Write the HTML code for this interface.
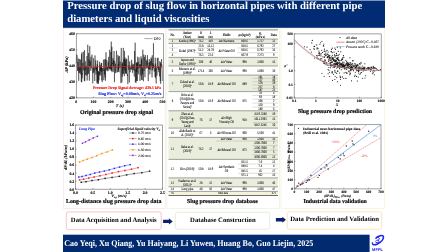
<!DOCTYPE html>
<html><head><meta charset="utf-8"><title>Pressure drop of slug flow in horizontal pipes</title>
<style>html,body{margin:0;padding:0;background:#fff;}body{width:448px;height:252px;overflow:hidden;}svg{display:block;filter:blur(0.25px);}</style>
</head><body>
<svg width="448" height="252" viewBox="0 0 448 252" font-family="'Liberation Serif','Times New Roman',serif" text-rendering="geometricPrecision">
<rect width="448" height="252" fill="#fff"/>
<rect x="63" y="0.5" width="322" height="27.3" fill="#012b73"/>
<text x="67.2" y="9.3" font-size="10.7" font-weight="bold" font-style="normal" fill="#fff" text-anchor="start" textLength="295" lengthAdjust="spacingAndGlyphs" >Pressure drop of slug flow in horizontal pipes with different pipe</text>
<text x="67.2" y="21.9" font-size="10.7" font-weight="bold" font-style="normal" fill="#fff" text-anchor="start" >diameters and liquid viscosities</text>
<rect x="63.4" y="28.3" width="101.8" height="180.1" fill="none" stroke="#f7dede" stroke-width="0.6"/>
<rect x="166.9" y="28.3" width="112.4" height="180" fill="none" stroke="#e2f0d8" stroke-width="0.6"/>
<rect x="281" y="28.3" width="103.5" height="180" fill="none" stroke="#faeccb" stroke-width="0.6"/>
<polyline points="76.30,64.10 76.50,54.52 76.70,62.34 76.90,54.90 77.10,55.80 77.30,58.83 77.51,67.31 77.71,70.98 77.91,62.01 78.11,70.81 78.31,58.56 78.51,65.56 78.71,80.74 78.91,67.23 79.11,71.63 79.31,73.21 79.51,59.05 79.72,63.79 79.92,72.70 80.12,66.56 80.32,71.47 80.52,59.62 80.72,74.34 80.92,71.48 81.12,72.07 81.32,81.95 81.52,54.18 81.73,82.23 81.93,52.37 82.13,78.25 82.33,73.36 82.53,74.35 82.73,72.47 82.93,62.94 83.13,70.62 83.33,51.69 83.53,58.76 83.73,69.00 83.94,69.13 84.14,69.56 84.34,80.74 84.54,50.07 84.74,81.26 84.94,67.08 85.14,70.14 85.34,61.30 85.54,75.12 85.74,72.87 85.94,66.04 86.15,66.65 86.35,65.90 86.55,75.60 86.75,67.91 86.95,55.96 87.15,80.54 87.35,73.87 87.55,74.45 87.75,44.71 87.95,73.92 88.16,67.01 88.36,73.62 88.56,52.99 88.76,58.99 88.96,66.05 89.16,59.44 89.36,80.68 89.56,64.47 89.76,46.14 89.96,66.17 90.16,65.33 90.37,61.21 90.57,61.40 90.77,70.80 90.97,56.75 91.17,68.35 91.37,67.97 91.57,67.60 91.77,64.57 91.97,54.63 92.17,63.30 92.37,69.94 92.58,72.46 92.78,83.37 92.98,67.72 93.18,73.23 93.38,58.27 93.58,69.55 93.78,68.82 93.98,72.36 94.18,67.34 94.38,68.35 94.58,73.25 94.79,80.96 94.99,55.44 95.19,69.56 95.39,68.07 95.59,65.11 95.79,60.37 95.99,74.51 96.19,67.89 96.39,70.69 96.59,66.80 96.80,77.20 97.00,83.43 97.20,64.14 97.40,81.98 97.60,60.55 97.80,80.78 98.00,83.90 98.20,71.36 98.40,83.58 98.60,71.28 98.80,72.68 99.01,80.33 99.21,72.39 99.41,73.80 99.61,61.72 99.81,75.71 100.01,69.62 100.21,64.79 100.41,71.02 100.61,67.21 100.81,75.33 101.01,66.76 101.22,63.15 101.42,71.66 101.62,62.92 101.82,80.29 102.02,67.91 102.22,82.17 102.42,72.98 102.62,70.21 102.82,68.04 103.02,71.02 103.22,70.11 103.43,59.61 103.63,67.84 103.83,80.22 104.03,74.91 104.23,68.80 104.43,74.47 104.63,69.83 104.83,59.56 105.03,77.42 105.23,59.09 105.44,80.76 105.64,72.11 105.84,57.68 106.04,52.34 106.24,66.13 106.44,70.42 106.64,61.75 106.84,60.01 107.04,63.48 107.24,70.14 107.44,67.02 107.65,71.30 107.85,70.43 108.05,65.62 108.25,61.90 108.45,67.75 108.65,56.86 108.85,70.50 109.05,68.72 109.25,66.13 109.45,69.01 109.65,49.76 109.86,64.77 110.06,64.55 110.26,68.74 110.46,65.57 110.66,69.28 110.86,51.97 111.06,70.75 111.26,41.58 111.46,67.87 111.66,70.67 111.87,46.71 112.07,72.14 112.27,62.89 112.47,64.12 112.67,63.88 112.87,58.31 113.07,58.00 113.27,71.60 113.47,60.17 113.67,66.44 113.87,57.59 114.08,50.97 114.28,64.18 114.48,82.17 114.68,60.90 114.88,62.52 115.08,65.90 115.28,73.13 115.48,63.76 115.68,69.11 115.88,72.11 116.08,72.64 116.29,58.55 116.49,50.78 116.69,67.42 116.89,66.67 117.09,70.63 117.29,72.35 117.49,71.57 117.69,67.79 117.89,54.80 118.09,71.95 118.29,64.13 118.50,69.55 118.70,56.36 118.90,72.12 119.10,68.64 119.30,57.47 119.50,56.17 119.70,59.29 119.90,67.82 120.10,61.60 120.30,73.18 120.51,75.59 120.71,75.61 120.91,83.17 121.11,55.00 121.31,47.88 121.51,74.57 121.71,74.75 121.91,82.37 122.11,63.71 122.31,76.80 122.51,62.31 122.72,73.57 122.92,65.80 123.12,68.02 123.32,47.86 123.52,73.73 123.72,73.91 123.92,59.12 124.12,68.38 124.32,76.15 124.52,50.88 124.72,70.28 124.93,57.46 125.13,66.16 125.33,60.24 125.53,73.04 125.73,64.51 125.93,74.20 126.13,58.42 126.33,73.66 126.53,70.87 126.73,59.04 126.93,62.12 127.14,71.39 127.34,75.99 127.54,74.36 127.74,83.85 127.94,84.19 128.14,67.27 128.34,55.50 128.54,62.91 128.74,69.72 128.94,65.15 129.15,69.79 129.35,82.37 129.55,61.99 129.75,61.32 129.95,69.68 130.15,72.25 130.35,68.13 130.55,68.50 130.75,69.51 130.95,65.82 131.15,68.41 131.36,68.84 131.56,59.77 131.76,60.30 131.96,69.84 132.16,63.63 132.36,72.81 132.56,71.23 132.76,66.24 132.96,67.84 133.16,64.89 133.36,70.15 133.57,66.69 133.77,63.82 133.97,65.74 134.17,75.48 134.37,76.61 134.57,50.99 134.77,71.14 134.97,71.25 135.17,42.68 135.37,82.16 135.58,72.00 135.78,69.57 135.98,83.01 136.18,70.69 136.38,62.16 136.58,80.92 136.78,63.43 136.98,72.03 137.18,62.79 137.38,81.04 137.58,56.76 137.79,57.69 137.99,68.70 138.19,61.89 138.39,74.30 138.59,73.66 138.79,69.35 138.99,57.36 139.19,64.17 139.39,64.13 139.59,67.68 139.79,64.47 140.00,80.94 140.20,64.20 140.40,67.23 140.60,68.39 140.80,75.51 141.00,56.26 141.20,67.40 141.40,59.86 141.60,79.74 141.80,58.37 142.00,73.79 142.21,80.04 142.41,68.03 142.61,74.40 142.81,49.67 143.01,61.90 143.21,72.25 143.41,81.28 143.61,69.39 143.81,54.68 144.01,71.02 144.22,67.39 144.42,57.14 144.62,61.50 144.82,75.32 145.02,77.23 145.22,68.33 145.42,55.13 145.62,62.42 145.82,67.73 146.02,68.93 146.22,60.74 146.43,63.88 146.63,67.55 146.83,65.55 147.03,59.63 147.23,64.69 147.43,55.13 147.63,68.12 147.83,64.86 148.03,62.67 148.23,81.17 148.43,70.42 148.64,65.75 148.84,69.52 149.04,65.69 149.24,59.04 149.44,69.05 149.64,62.18 149.84,74.31 150.04,70.19 150.24,65.60 150.44,60.92 150.64,67.02 150.85,70.16 151.05,57.34 151.25,65.77 151.45,58.84 151.65,59.00 151.85,64.30 152.05,77.42 152.25,55.33 152.45,65.54 152.65,70.25 152.86,63.23 153.06,67.55 153.26,67.21 153.46,43.24 153.66,68.22 153.86,64.71 154.06,71.44 154.26,71.63 154.46,71.34 154.66,68.65 154.86,68.12 155.07,77.01 155.27,57.73 155.47,78.02 155.67,63.56 155.87,70.07 156.07,80.70 156.27,83.49 156.47,68.08 156.67,67.54 156.87,75.73 157.07,74.54 157.28,58.03 157.48,61.53 157.68,67.30 157.88,68.03 158.08,57.69 158.28,69.93 158.48,66.52 158.68,67.37 158.88,72.22 159.08,67.31 159.29,72.60 159.49,76.37 159.69,61.23 159.89,61.58 160.09,74.62 160.29,81.26 160.49,62.38 160.69,83.81 160.89,71.03 161.09,63.86 161.29,67.45 161.50,59.03 161.70,63.77 161.90,64.98 162.10,67.27 162.30,69.35 162.50,81.03" fill="none" stroke="#000" stroke-width="0.42"/>
<line x1="76.3" y1="66.65" x2="162.5" y2="66.65" stroke="#e8262b" stroke-width="0.7"/>
<rect x="76.3" y="33.8" width="87.1" height="64.1" fill="none" stroke="#7a7a7a" stroke-width="0.7"/>
<line x1="76.3" y1="33.8" x2="77.5" y2="33.8" stroke="#333" stroke-width="0.4"/>
<text x="74.9" y="35.15" font-size="3.9" font-weight="bold" font-style="normal" fill="#000" text-anchor="end" stroke="#000" stroke-width="0.1" >460</text>
<line x1="76.3" y1="49.83" x2="77.5" y2="49.83" stroke="#333" stroke-width="0.4"/>
<text x="74.9" y="51.18" font-size="3.9" font-weight="bold" font-style="normal" fill="#000" text-anchor="end" stroke="#000" stroke-width="0.1" >450</text>
<line x1="76.3" y1="65.85" x2="77.5" y2="65.85" stroke="#333" stroke-width="0.4"/>
<text x="74.9" y="67.2" font-size="3.9" font-weight="bold" font-style="normal" fill="#000" text-anchor="end" stroke="#000" stroke-width="0.1" >440</text>
<line x1="76.3" y1="81.88" x2="77.5" y2="81.88" stroke="#333" stroke-width="0.4"/>
<text x="74.9" y="83.22" font-size="3.9" font-weight="bold" font-style="normal" fill="#000" text-anchor="end" stroke="#000" stroke-width="0.1" >430</text>
<line x1="76.3" y1="97.9" x2="77.5" y2="97.9" stroke="#333" stroke-width="0.4"/>
<text x="74.9" y="99.25" font-size="3.9" font-weight="bold" font-style="normal" fill="#000" text-anchor="end" stroke="#000" stroke-width="0.1" >420</text>
<line x1="76.3" y1="97.9" x2="76.3" y2="96.7" stroke="#333" stroke-width="0.4"/>
<text x="76.3" y="102.9" font-size="3.9" font-weight="bold" font-style="normal" fill="#000" text-anchor="middle" stroke="#000" stroke-width="0.1" >0</text>
<line x1="93.54" y1="97.9" x2="93.54" y2="96.7" stroke="#333" stroke-width="0.4"/>
<text x="93.54" y="102.9" font-size="3.9" font-weight="bold" font-style="normal" fill="#000" text-anchor="middle" stroke="#000" stroke-width="0.1" >100</text>
<line x1="110.78" y1="97.9" x2="110.78" y2="96.7" stroke="#333" stroke-width="0.4"/>
<text x="110.78" y="102.9" font-size="3.9" font-weight="bold" font-style="normal" fill="#000" text-anchor="middle" stroke="#000" stroke-width="0.1" >200</text>
<line x1="128.02" y1="97.9" x2="128.02" y2="96.7" stroke="#333" stroke-width="0.4"/>
<text x="128.02" y="102.9" font-size="3.9" font-weight="bold" font-style="normal" fill="#000" text-anchor="middle" stroke="#000" stroke-width="0.1" >300</text>
<line x1="145.26" y1="97.9" x2="145.26" y2="96.7" stroke="#333" stroke-width="0.4"/>
<text x="145.26" y="102.9" font-size="3.9" font-weight="bold" font-style="normal" fill="#000" text-anchor="middle" stroke="#000" stroke-width="0.1" >400</text>
<line x1="162.5" y1="97.9" x2="162.5" y2="96.7" stroke="#333" stroke-width="0.4"/>
<text x="162.5" y="102.9" font-size="3.9" font-weight="bold" font-style="normal" fill="#000" text-anchor="middle" stroke="#000" stroke-width="0.1" >500</text>
<text x="119.8" y="107.2" font-size="4.2" font-weight="bold" font-style="italic" fill="#000" text-anchor="middle" stroke="#000" stroke-width="0.05" >T (s)</text>
<text transform="translate(67.6,64.4) rotate(-90)" font-size="4.4" font-style="italic" font-weight="bold" stroke="#000" stroke-width="0.06" text-anchor="middle">ΔP (kPa)</text>
<line x1="144.4" y1="38.6" x2="152.7" y2="38.6" stroke="#444" stroke-width="0.45"/>
<text x="153.8" y="40" font-size="3.7" font-weight="normal" font-style="normal" fill="#000" text-anchor="start" textLength="6.9" lengthAdjust="spacingAndGlyphs" stroke="#000" stroke-width="0.05" >DP2</text>
<text x="92.9" y="89.2" font-size="4" font-weight="bold" font-style="normal" fill="#f01818" text-anchor="start" textLength="68.4" lengthAdjust="spacingAndGlyphs" stroke="#f01818" stroke-width="0.12" >Pressure Drop Signal Average:  439.5 kPa</text>
<text x="98.3" y="95.1" font-size="4" font-weight="bold" font-style="normal" fill="#1a2ee8" text-anchor="start" textLength="63" lengthAdjust="spacingAndGlyphs" stroke="#1a2ee8" stroke-width="0.12" >Slug Flow: V<tspan font-size="2.6" dy="0.8">sg</tspan><tspan dy="-0.8">=0.08m/s, V</tspan><tspan font-size="2.6" dy="0.8">sl</tspan><tspan dy="-0.8">=0.25m/s</tspan></text>
<text x="116.5" y="113.8" font-size="6.1" font-weight="bold" font-style="normal" fill="#000" text-anchor="middle" textLength="73.2" lengthAdjust="spacingAndGlyphs" stroke="#000" stroke-width="0.16" >Original pressure drop signal</text>
<rect x="75.5" y="125.0" width="87" height="64.2" fill="none" stroke="#7a7a7a" stroke-width="0.7"/>
<line x1="75.5" y1="189.2" x2="76.7" y2="189.2" stroke="#333" stroke-width="0.4"/>
<text x="74.3" y="190.55" font-size="3.9" font-weight="bold" font-style="normal" fill="#000" text-anchor="end" stroke="#000" stroke-width="0.1" >0.0</text>
<line x1="75.5" y1="181.18" x2="76.7" y2="181.18" stroke="#333" stroke-width="0.4"/>
<text x="74.3" y="182.53" font-size="3.9" font-weight="bold" font-style="normal" fill="#000" text-anchor="end" stroke="#000" stroke-width="0.1" >0.2</text>
<line x1="75.5" y1="173.16" x2="76.7" y2="173.16" stroke="#333" stroke-width="0.4"/>
<text x="74.3" y="174.51" font-size="3.9" font-weight="bold" font-style="normal" fill="#000" text-anchor="end" stroke="#000" stroke-width="0.1" >0.4</text>
<line x1="75.5" y1="165.14" x2="76.7" y2="165.14" stroke="#333" stroke-width="0.4"/>
<text x="74.3" y="166.49" font-size="3.9" font-weight="bold" font-style="normal" fill="#000" text-anchor="end" stroke="#000" stroke-width="0.1" >0.6</text>
<line x1="75.5" y1="157.12" x2="76.7" y2="157.12" stroke="#333" stroke-width="0.4"/>
<text x="74.3" y="158.47" font-size="3.9" font-weight="bold" font-style="normal" fill="#000" text-anchor="end" stroke="#000" stroke-width="0.1" >0.8</text>
<line x1="75.5" y1="149.1" x2="76.7" y2="149.1" stroke="#333" stroke-width="0.4"/>
<text x="74.3" y="150.45" font-size="3.9" font-weight="bold" font-style="normal" fill="#000" text-anchor="end" stroke="#000" stroke-width="0.1" >1.0</text>
<line x1="75.5" y1="141.08" x2="76.7" y2="141.08" stroke="#333" stroke-width="0.4"/>
<text x="74.3" y="142.43" font-size="3.9" font-weight="bold" font-style="normal" fill="#000" text-anchor="end" stroke="#000" stroke-width="0.1" >1.2</text>
<line x1="75.5" y1="133.06" x2="76.7" y2="133.06" stroke="#333" stroke-width="0.4"/>
<text x="74.3" y="134.41" font-size="3.9" font-weight="bold" font-style="normal" fill="#000" text-anchor="end" stroke="#000" stroke-width="0.1" >1.4</text>
<line x1="75.5" y1="125.04" x2="76.7" y2="125.04" stroke="#333" stroke-width="0.4"/>
<text x="74.3" y="126.39" font-size="3.9" font-weight="bold" font-style="normal" fill="#000" text-anchor="end" stroke="#000" stroke-width="0.1" >1.6</text>
<line x1="75.5" y1="189.2" x2="75.5" y2="188" stroke="#333" stroke-width="0.4"/>
<text x="75.5" y="193.5" font-size="3.9" font-weight="bold" font-style="normal" fill="#000" text-anchor="middle" stroke="#000" stroke-width="0.1" >0.0</text>
<line x1="92.9" y1="189.2" x2="92.9" y2="188" stroke="#333" stroke-width="0.4"/>
<text x="92.9" y="193.5" font-size="3.9" font-weight="bold" font-style="normal" fill="#000" text-anchor="middle" stroke="#000" stroke-width="0.1" >0.5</text>
<line x1="110.3" y1="189.2" x2="110.3" y2="188" stroke="#333" stroke-width="0.4"/>
<text x="110.3" y="193.5" font-size="3.9" font-weight="bold" font-style="normal" fill="#000" text-anchor="middle" stroke="#000" stroke-width="0.1" >1.0</text>
<line x1="127.7" y1="189.2" x2="127.7" y2="188" stroke="#333" stroke-width="0.4"/>
<text x="127.7" y="193.5" font-size="3.9" font-weight="bold" font-style="normal" fill="#000" text-anchor="middle" stroke="#000" stroke-width="0.1" >1.5</text>
<line x1="145.1" y1="189.2" x2="145.1" y2="188" stroke="#333" stroke-width="0.4"/>
<text x="145.1" y="193.5" font-size="3.9" font-weight="bold" font-style="normal" fill="#000" text-anchor="middle" stroke="#000" stroke-width="0.1" >2.0</text>
<line x1="162.5" y1="189.2" x2="162.5" y2="188" stroke="#333" stroke-width="0.4"/>
<text x="162.5" y="193.5" font-size="3.9" font-weight="bold" font-style="normal" fill="#000" text-anchor="middle" stroke="#000" stroke-width="0.1" >2.5</text>
<text x="119" y="197.2" font-size="3.7" font-weight="bold" font-style="italic" fill="#000" text-anchor="middle" textLength="15.6" lengthAdjust="spacingAndGlyphs" stroke="#000" stroke-width="0.06" >V<tspan font-size="2.5" dy="0.9">sg</tspan><tspan dy="-0.9"> (m/s)</tspan></text>
<text transform="translate(66.9,157.4) rotate(-90)" font-size="4.1" font-style="italic" font-weight="bold" stroke="#000" stroke-width="0.06" text-anchor="middle" textLength="25" lengthAdjust="spacingAndGlyphs">dP/dL (kPa/m)</text>
<polyline points="81.24,182.28 86.08,181.67 91.99,180.53 98.37,179.74 105.08,178.40 112.06,177.45 119.24,176.36 126.62,174.89 134.15,173.57 141.82,172.71 149.62,171.19" fill="none" stroke="#222222" stroke-width="0.45"/>
<rect x="80.49" y="181.53" width="1.5" height="1.5" fill="#222222"/>
<rect x="85.33" y="180.92" width="1.5" height="1.5" fill="#222222"/>
<rect x="91.24" y="179.78" width="1.5" height="1.5" fill="#222222"/>
<rect x="97.62" y="178.99" width="1.5" height="1.5" fill="#222222"/>
<rect x="104.33" y="177.65" width="1.5" height="1.5" fill="#222222"/>
<rect x="111.31" y="176.70" width="1.5" height="1.5" fill="#222222"/>
<rect x="118.49" y="175.61" width="1.5" height="1.5" fill="#222222"/>
<rect x="125.87" y="174.14" width="1.5" height="1.5" fill="#222222"/>
<rect x="133.40" y="172.82" width="1.5" height="1.5" fill="#222222"/>
<rect x="141.07" y="171.96" width="1.5" height="1.5" fill="#222222"/>
<rect x="148.87" y="170.44" width="1.5" height="1.5" fill="#222222"/>
<polyline points="79.50,179.92 83.65,179.23 88.71,178.09 94.19,177.04 99.95,175.79 105.93,174.49 112.09,173.02 118.41,171.66 124.87,170.50 131.45,169.20 138.14,167.63" fill="none" stroke="#ee1c24" stroke-width="0.45"/>
<rect x="78.75" y="179.17" width="1.5" height="1.5" fill="#ee1c24"/>
<rect x="82.90" y="178.48" width="1.5" height="1.5" fill="#ee1c24"/>
<rect x="87.96" y="177.34" width="1.5" height="1.5" fill="#ee1c24"/>
<rect x="93.44" y="176.29" width="1.5" height="1.5" fill="#ee1c24"/>
<rect x="99.20" y="175.04" width="1.5" height="1.5" fill="#ee1c24"/>
<rect x="105.18" y="173.74" width="1.5" height="1.5" fill="#ee1c24"/>
<rect x="111.34" y="172.27" width="1.5" height="1.5" fill="#ee1c24"/>
<rect x="117.66" y="170.91" width="1.5" height="1.5" fill="#ee1c24"/>
<rect x="124.12" y="169.75" width="1.5" height="1.5" fill="#ee1c24"/>
<rect x="130.70" y="168.45" width="1.5" height="1.5" fill="#ee1c24"/>
<rect x="137.39" y="166.88" width="1.5" height="1.5" fill="#ee1c24"/>
<polyline points="78.74,177.08 82.00,176.52 85.97,175.48 90.27,174.47 94.80,173.07 99.49,172.03 104.34,171.07 109.30,169.83 114.37,168.43 119.54,167.09 124.80,165.75 130.14,164.70" fill="none" stroke="#2233ee" stroke-width="0.45"/>
<rect x="77.99" y="176.33" width="1.5" height="1.5" fill="#2233ee"/>
<rect x="81.25" y="175.77" width="1.5" height="1.5" fill="#2233ee"/>
<rect x="85.22" y="174.73" width="1.5" height="1.5" fill="#2233ee"/>
<rect x="89.52" y="173.72" width="1.5" height="1.5" fill="#2233ee"/>
<rect x="94.05" y="172.32" width="1.5" height="1.5" fill="#2233ee"/>
<rect x="98.74" y="171.28" width="1.5" height="1.5" fill="#2233ee"/>
<rect x="103.59" y="170.32" width="1.5" height="1.5" fill="#2233ee"/>
<rect x="108.55" y="169.08" width="1.5" height="1.5" fill="#2233ee"/>
<rect x="113.62" y="167.68" width="1.5" height="1.5" fill="#2233ee"/>
<rect x="118.79" y="166.34" width="1.5" height="1.5" fill="#2233ee"/>
<rect x="124.05" y="165.00" width="1.5" height="1.5" fill="#2233ee"/>
<rect x="129.39" y="163.95" width="1.5" height="1.5" fill="#2233ee"/>
<polyline points="79.50,162.09 83.01,160.55 87.29,159.13 91.91,157.50 96.78,155.70 101.84,153.54 107.05,151.95 112.39,149.87" fill="none" stroke="#f7931e" stroke-width="0.45"/>
<rect x="78.75" y="161.34" width="1.5" height="1.5" fill="#f7931e"/>
<rect x="82.26" y="159.80" width="1.5" height="1.5" fill="#f7931e"/>
<rect x="86.54" y="158.38" width="1.5" height="1.5" fill="#f7931e"/>
<rect x="91.16" y="156.75" width="1.5" height="1.5" fill="#f7931e"/>
<rect x="96.03" y="154.95" width="1.5" height="1.5" fill="#f7931e"/>
<rect x="101.09" y="152.79" width="1.5" height="1.5" fill="#f7931e"/>
<rect x="106.30" y="151.20" width="1.5" height="1.5" fill="#f7931e"/>
<rect x="111.64" y="149.12" width="1.5" height="1.5" fill="#f7931e"/>
<polyline points="82.46,143.31 85.50,141.87 89.20,139.93 93.21,137.99 97.42,136.33" fill="none" stroke="#8a2be2" stroke-width="0.45"/>
<rect x="81.71" y="142.56" width="1.5" height="1.5" fill="#8a2be2"/>
<rect x="84.75" y="141.12" width="1.5" height="1.5" fill="#8a2be2"/>
<rect x="88.45" y="139.18" width="1.5" height="1.5" fill="#8a2be2"/>
<rect x="92.46" y="137.24" width="1.5" height="1.5" fill="#8a2be2"/>
<rect x="96.67" y="135.58" width="1.5" height="1.5" fill="#8a2be2"/>
<text x="79.1" y="130.3" font-size="3.8" font-weight="bold" font-style="italic" fill="#1a2ee8" text-anchor="start" textLength="15.7" lengthAdjust="spacingAndGlyphs" stroke="#1a2ee8" stroke-width="0.06" >Long Pipe</text>
<text x="117.6" y="130.1" font-size="3.6" font-weight="bold" font-style="italic" fill="#000" text-anchor="start" textLength="42.6" lengthAdjust="spacingAndGlyphs" stroke="#000" stroke-width="0.06" >Superficial liquid velocity V<tspan font-size="2.4" dy="0.7">sl</tspan></text>
<line x1="129" y1="133" x2="136.7" y2="133" stroke="#222222" stroke-width="0.45"/>
<rect x="132.10" y="132.25" width="1.5" height="1.5" fill="#222222"/>
<text x="137.9" y="134.2" font-size="3.5" font-weight="normal" font-style="normal" fill="#000" text-anchor="start" textLength="12.8" lengthAdjust="spacingAndGlyphs" stroke="#000" stroke-width="0.07" >0.75 m/s</text>
<line x1="129" y1="138.6" x2="136.7" y2="138.6" stroke="#ee1c24" stroke-width="0.45"/>
<rect x="132.10" y="137.85" width="1.5" height="1.5" fill="#ee1c24"/>
<text x="137.9" y="139.8" font-size="3.5" font-weight="normal" font-style="normal" fill="#000" text-anchor="start" textLength="12.8" lengthAdjust="spacingAndGlyphs" stroke="#000" stroke-width="0.07" >0.87 m/s</text>
<line x1="129" y1="144.2" x2="136.7" y2="144.2" stroke="#2233ee" stroke-width="0.45"/>
<rect x="132.10" y="143.45" width="1.5" height="1.5" fill="#2233ee"/>
<text x="137.9" y="145.4" font-size="3.5" font-weight="normal" font-style="normal" fill="#000" text-anchor="start" textLength="12.8" lengthAdjust="spacingAndGlyphs" stroke="#000" stroke-width="0.07" >1.00 m/s</text>
<line x1="129" y1="149.8" x2="136.7" y2="149.8" stroke="#f7931e" stroke-width="0.45"/>
<rect x="132.10" y="149.05" width="1.5" height="1.5" fill="#f7931e"/>
<text x="137.9" y="151" font-size="3.5" font-weight="normal" font-style="normal" fill="#000" text-anchor="start" textLength="12.8" lengthAdjust="spacingAndGlyphs" stroke="#000" stroke-width="0.07" >1.50 m/s</text>
<line x1="129" y1="155.4" x2="136.7" y2="155.4" stroke="#8a2be2" stroke-width="0.45"/>
<rect x="132.10" y="154.65" width="1.5" height="1.5" fill="#8a2be2"/>
<text x="137.9" y="156.6" font-size="3.5" font-weight="normal" font-style="normal" fill="#000" text-anchor="start" textLength="12.8" lengthAdjust="spacingAndGlyphs" stroke="#000" stroke-width="0.07" >2.00 m/s</text>
<text x="113.7" y="202.8" font-size="6" font-weight="bold" font-style="normal" fill="#000" text-anchor="middle" textLength="95.4" lengthAdjust="spacingAndGlyphs" stroke="#000" stroke-width="0.16" >Long-distance slug pressure drop data</text>
<rect x="168.5" y="29.9" width="109.5" height="9.5" fill="#fff"/>
<text transform="translate(172.5,35.6) scale(1,1.3)" font-size="2.9" font-weight="bold" fill="#111" stroke="#111" stroke-width="0.06" text-anchor="middle">No.</text>
<text transform="translate(187.3,34.01) scale(1,1.3)" font-size="2.8" font-weight="bold" fill="#111" stroke="#111" stroke-width="0.06" text-anchor="middle">Author</text>
<text transform="translate(187.3,37.61) scale(1,1.3)" font-size="2.8" font-weight="bold" fill="#111" stroke="#111" stroke-width="0.06" text-anchor="middle">(Year)</text>
<text transform="translate(201,34.01) scale(1,1.3)" font-size="2.8" font-weight="bold" fill="#111" stroke="#111" stroke-width="0.06" text-anchor="middle"><tspan font-style="italic">D</tspan></text>
<text transform="translate(201,37.61) scale(1,1.3)" font-size="2.8" font-weight="bold" fill="#111" stroke="#111" stroke-width="0.06" text-anchor="middle">(mm)</text>
<text transform="translate(210.6,34.01) scale(1,1.3)" font-size="2.8" font-weight="bold" fill="#111" stroke="#111" stroke-width="0.06" text-anchor="middle"><tspan font-style="italic">L</tspan></text>
<text transform="translate(210.6,37.61) scale(1,1.3)" font-size="2.8" font-weight="bold" fill="#111" stroke="#111" stroke-width="0.06" text-anchor="middle">(m)</text>
<text transform="translate(226.5,35.6) scale(1,1.3)" font-size="2.9" font-weight="bold" fill="#111" stroke="#111" stroke-width="0.06" text-anchor="middle">Fluids</text>
<text transform="translate(244.6,35.6) scale(1,1.3)" font-size="2.9" font-weight="bold" fill="#111" stroke="#111" stroke-width="0.06" text-anchor="middle">ρ<tspan font-size="2" dy="0.6">L</tspan><tspan dy="-0.6">(kg/m³)</tspan></text>
<text transform="translate(260.4,34.01) scale(1,1.3)" font-size="2.8" font-weight="bold" fill="#111" stroke="#111" stroke-width="0.06" text-anchor="middle"><tspan font-style="italic">μ</tspan><tspan font-size="2" dy="0.6">L</tspan></text>
<text transform="translate(260.4,37.61) scale(1,1.3)" font-size="2.8" font-weight="bold" fill="#111" stroke="#111" stroke-width="0.06" text-anchor="middle">(mPa·s)</text>
<text transform="translate(273.8,35.6) scale(1,1.3)" font-size="2.9" font-weight="bold" fill="#111" stroke="#111" stroke-width="0.06" text-anchor="middle">Data</text>
<rect x="168.5" y="39.2" width="109.5" height="4.1" fill="#e9eddc"/>
<text transform="translate(172.5,42.49) scale(1,1.3)" font-size="2.9" font-weight="normal" fill="#111" stroke="#111" stroke-width="0.06" text-anchor="middle">1</text>
<text transform="translate(187.3,42.49) scale(1,1.3)" font-size="2.9" font-weight="normal" fill="#111" stroke="#111" stroke-width="0.06" text-anchor="middle">Kouba (1986)ᵃ</text>
<text transform="translate(201,42.49) scale(1,1.3)" font-size="2.9" font-weight="normal" fill="#111" stroke="#111" stroke-width="0.06" text-anchor="middle">76.2</text>
<text transform="translate(210.6,42.49) scale(1,1.3)" font-size="2.9" font-weight="normal" fill="#111" stroke="#111" stroke-width="0.06" text-anchor="middle">419</text>
<text transform="translate(226.5,42.49) scale(1,1.3)" font-size="2.9" font-weight="normal" fill="#111" stroke="#111" stroke-width="0.06" text-anchor="middle">Air/Kerosene</text>
<text transform="translate(244.6,42.49) scale(1,1.3)" font-size="2.9" font-weight="normal" fill="#111" stroke="#111" stroke-width="0.06" text-anchor="middle">800.6</text>
<text transform="translate(260.4,42.49) scale(1,1.3)" font-size="2.9" font-weight="normal" fill="#111" stroke="#111" stroke-width="0.06" text-anchor="middle">1.737</text>
<text transform="translate(273.8,42.49) scale(1,1.3)" font-size="2.9" font-weight="normal" fill="#111" stroke="#111" stroke-width="0.06" text-anchor="middle">33</text>
<rect x="168.5" y="43.3" width="109.5" height="14.1" fill="#fff"/>
<text transform="translate(172.5,46.55) scale(1,1.3)" font-size="2.9" font-weight="normal" fill="#111" stroke="#111" stroke-width="0.06" text-anchor="middle">2</text>
<text transform="translate(201,46.55) scale(1,1.3)" font-size="2.9" font-weight="normal" fill="#111" stroke="#111" stroke-width="0.06" text-anchor="middle">25.8</text>
<text transform="translate(210.6,46.55) scale(1,1.3)" font-size="2.9" font-weight="normal" fill="#111" stroke="#111" stroke-width="0.06" text-anchor="middle">16.12</text>
<text transform="translate(244.6,46.55) scale(1,1.3)" font-size="2.9" font-weight="normal" fill="#111" stroke="#111" stroke-width="0.06" text-anchor="middle">858.5</text>
<text transform="translate(260.4,46.55) scale(1,1.3)" font-size="2.9" font-weight="normal" fill="#111" stroke="#111" stroke-width="0.06" text-anchor="middle">6.792</text>
<text transform="translate(273.8,46.55) scale(1,1.3)" font-size="2.9" font-weight="normal" fill="#111" stroke="#111" stroke-width="0.06" text-anchor="middle">27</text>
<line x1="168.5" y1="48" x2="177.5" y2="48" stroke="#a9a99c" stroke-width="0.4"/>
<line x1="196.5" y1="48" x2="215.0" y2="48" stroke="#a9a99c" stroke-width="0.4"/>
<line x1="237.5" y1="48" x2="278.0" y2="48" stroke="#a9a99c" stroke-width="0.4"/>
<text transform="translate(172.5,51.25) scale(1,1.3)" font-size="2.9" font-weight="normal" fill="#111" stroke="#111" stroke-width="0.06" text-anchor="middle">3</text>
<text transform="translate(201,51.25) scale(1,1.3)" font-size="2.9" font-weight="normal" fill="#111" stroke="#111" stroke-width="0.06" text-anchor="middle">51.2</text>
<text transform="translate(210.6,51.25) scale(1,1.3)" font-size="2.9" font-weight="normal" fill="#111" stroke="#111" stroke-width="0.06" text-anchor="middle">24.78</text>
<text transform="translate(244.6,51.25) scale(1,1.3)" font-size="2.9" font-weight="normal" fill="#111" stroke="#111" stroke-width="0.06" text-anchor="middle">858.5</text>
<text transform="translate(260.4,51.25) scale(1,1.3)" font-size="2.9" font-weight="normal" fill="#111" stroke="#111" stroke-width="0.06" text-anchor="middle">6.792</text>
<text transform="translate(273.8,51.25) scale(1,1.3)" font-size="2.9" font-weight="normal" fill="#111" stroke="#111" stroke-width="0.06" text-anchor="middle">36</text>
<line x1="168.5" y1="52.7" x2="177.5" y2="52.7" stroke="#a9a99c" stroke-width="0.4"/>
<line x1="196.5" y1="52.7" x2="215.0" y2="52.7" stroke="#a9a99c" stroke-width="0.4"/>
<line x1="237.5" y1="52.7" x2="278.0" y2="52.7" stroke="#a9a99c" stroke-width="0.4"/>
<text transform="translate(172.5,55.95) scale(1,1.3)" font-size="2.9" font-weight="normal" fill="#111" stroke="#111" stroke-width="0.06" text-anchor="middle">4</text>
<text transform="translate(201,55.95) scale(1,1.3)" font-size="2.9" font-weight="normal" fill="#111" stroke="#111" stroke-width="0.06" text-anchor="middle">76.3</text>
<text transform="translate(210.6,55.95) scale(1,1.3)" font-size="2.9" font-weight="normal" fill="#111" stroke="#111" stroke-width="0.06" text-anchor="middle">23.6</text>
<text transform="translate(244.6,55.95) scale(1,1.3)" font-size="2.9" font-weight="normal" fill="#111" stroke="#111" stroke-width="0.06" text-anchor="middle">867.9</text>
<text transform="translate(260.4,55.95) scale(1,1.3)" font-size="2.9" font-weight="normal" fill="#111" stroke="#111" stroke-width="0.06" text-anchor="middle">7.273</text>
<text transform="translate(273.8,55.95) scale(1,1.3)" font-size="2.9" font-weight="normal" fill="#111" stroke="#111" stroke-width="0.06" text-anchor="middle">9</text>
<text transform="translate(187.3,51.59) scale(1,1.3)" font-size="2.9" font-weight="normal" fill="#111" stroke="#111" stroke-width="0.06" text-anchor="middle">Kokal (1987)ᵇ</text>
<text transform="translate(226.5,51.59) scale(1,1.3)" font-size="2.9" font-weight="normal" fill="#111" stroke="#111" stroke-width="0.06" text-anchor="middle">Air/Water/Oil</text>
<rect x="168.5" y="57.4" width="109.5" height="8.6" fill="#e9eddc"/>
<text transform="translate(172.5,62.94) scale(1,1.3)" font-size="2.9" font-weight="normal" fill="#111" stroke="#111" stroke-width="0.06" text-anchor="middle">5</text>
<text transform="translate(187.3,60.94) scale(1,1.3)" font-size="2.9" font-weight="normal" fill="#111" stroke="#111" stroke-width="0.06" text-anchor="middle">Jepson and</text>
<text transform="translate(187.3,64.94) scale(1,1.3)" font-size="2.9" font-weight="normal" fill="#111" stroke="#111" stroke-width="0.06" text-anchor="middle">Taylor (1993)ᶜ</text>
<text transform="translate(201,62.94) scale(1,1.3)" font-size="2.9" font-weight="normal" fill="#111" stroke="#111" stroke-width="0.06" text-anchor="middle">300</text>
<text transform="translate(210.6,62.94) scale(1,1.3)" font-size="2.9" font-weight="normal" fill="#111" stroke="#111" stroke-width="0.06" text-anchor="middle">40</text>
<text transform="translate(226.5,62.94) scale(1,1.3)" font-size="2.9" font-weight="normal" fill="#111" stroke="#111" stroke-width="0.06" text-anchor="middle">Air/Water</text>
<text transform="translate(244.6,62.94) scale(1,1.3)" font-size="2.9" font-weight="normal" fill="#111" stroke="#111" stroke-width="0.06" text-anchor="middle">998</text>
<text transform="translate(260.4,62.94) scale(1,1.3)" font-size="2.9" font-weight="normal" fill="#111" stroke="#111" stroke-width="0.06" text-anchor="middle">1.000</text>
<text transform="translate(273.8,62.94) scale(1,1.3)" font-size="2.9" font-weight="normal" fill="#111" stroke="#111" stroke-width="0.06" text-anchor="middle">16</text>
<rect x="168.5" y="66.0" width="109.5" height="9.1" fill="#fff"/>
<text transform="translate(172.5,71.79) scale(1,1.3)" font-size="2.9" font-weight="normal" fill="#111" stroke="#111" stroke-width="0.06" text-anchor="middle">6</text>
<text transform="translate(187.3,69.79) scale(1,1.3)" font-size="2.9" font-weight="normal" fill="#111" stroke="#111" stroke-width="0.06" text-anchor="middle">Marcano et al.</text>
<text transform="translate(187.3,73.79) scale(1,1.3)" font-size="2.9" font-weight="normal" fill="#111" stroke="#111" stroke-width="0.06" text-anchor="middle">(1998)ᵈ</text>
<text transform="translate(201,71.79) scale(1,1.3)" font-size="2.9" font-weight="normal" fill="#111" stroke="#111" stroke-width="0.06" text-anchor="middle">172.4</text>
<text transform="translate(210.6,71.79) scale(1,1.3)" font-size="2.9" font-weight="normal" fill="#111" stroke="#111" stroke-width="0.06" text-anchor="middle">200</text>
<text transform="translate(226.5,71.79) scale(1,1.3)" font-size="2.9" font-weight="normal" fill="#111" stroke="#111" stroke-width="0.06" text-anchor="middle">Air/Water</text>
<text transform="translate(244.6,71.79) scale(1,1.3)" font-size="2.9" font-weight="normal" fill="#111" stroke="#111" stroke-width="0.06" text-anchor="middle">998</text>
<text transform="translate(260.4,71.79) scale(1,1.3)" font-size="2.9" font-weight="normal" fill="#111" stroke="#111" stroke-width="0.06" text-anchor="middle">1.000</text>
<text transform="translate(273.8,71.79) scale(1,1.3)" font-size="2.9" font-weight="normal" fill="#111" stroke="#111" stroke-width="0.06" text-anchor="middle">30</text>
<rect x="168.5" y="75.1" width="109.5" height="16.5" fill="#e9eddc"/>
<text transform="translate(172.5,84.59) scale(1,1.3)" font-size="2.9" font-weight="normal" fill="#111" stroke="#111" stroke-width="0.06" text-anchor="middle">7</text>
<text transform="translate(187.3,82.59) scale(1,1.3)" font-size="2.9" font-weight="normal" fill="#111" stroke="#111" stroke-width="0.06" text-anchor="middle">Gokcal et al.</text>
<text transform="translate(187.3,86.59) scale(1,1.3)" font-size="2.9" font-weight="normal" fill="#111" stroke="#111" stroke-width="0.06" text-anchor="middle">(2010)ᵉ</text>
<text transform="translate(201,84.59) scale(1,1.3)" font-size="2.9" font-weight="normal" fill="#111" stroke="#111" stroke-width="0.06" text-anchor="middle">50.8</text>
<text transform="translate(210.6,84.59) scale(1,1.3)" font-size="2.9" font-weight="normal" fill="#111" stroke="#111" stroke-width="0.06" text-anchor="middle">18.9</text>
<text transform="translate(226.5,84.59) scale(1,1.3)" font-size="2.9" font-weight="normal" fill="#111" stroke="#111" stroke-width="0.06" text-anchor="middle">Air/Mineral Oil</text>
<text transform="translate(244.6,84.59) scale(1,1.3)" font-size="2.9" font-weight="normal" fill="#111" stroke="#111" stroke-width="0.06" text-anchor="middle">889</text>
<text transform="translate(260.4,77.65) scale(1,1.3)" font-size="2.9" font-weight="normal" fill="#111" stroke="#111" stroke-width="0.06" text-anchor="middle">181</text>
<text transform="translate(273.8,77.65) scale(1,1.3)" font-size="2.9" font-weight="normal" fill="#111" stroke="#111" stroke-width="0.06" text-anchor="middle">38</text>
<line x1="252.5" y1="78.4" x2="278.0" y2="78.4" stroke="#a9a99c" stroke-width="0.4"/>
<text transform="translate(260.4,80.95) scale(1,1.3)" font-size="2.9" font-weight="normal" fill="#111" stroke="#111" stroke-width="0.06" text-anchor="middle">127</text>
<text transform="translate(273.8,80.95) scale(1,1.3)" font-size="2.9" font-weight="normal" fill="#111" stroke="#111" stroke-width="0.06" text-anchor="middle">40</text>
<line x1="252.5" y1="81.7" x2="278.0" y2="81.7" stroke="#a9a99c" stroke-width="0.4"/>
<text transform="translate(260.4,84.25) scale(1,1.3)" font-size="2.9" font-weight="normal" fill="#111" stroke="#111" stroke-width="0.06" text-anchor="middle">178</text>
<text transform="translate(273.8,84.25) scale(1,1.3)" font-size="2.9" font-weight="normal" fill="#111" stroke="#111" stroke-width="0.06" text-anchor="middle">29</text>
<line x1="252.5" y1="85" x2="278.0" y2="85" stroke="#a9a99c" stroke-width="0.4"/>
<text transform="translate(260.4,87.55) scale(1,1.3)" font-size="2.9" font-weight="normal" fill="#111" stroke="#111" stroke-width="0.06" text-anchor="middle">257</text>
<text transform="translate(273.8,87.55) scale(1,1.3)" font-size="2.9" font-weight="normal" fill="#111" stroke="#111" stroke-width="0.06" text-anchor="middle">8</text>
<line x1="252.5" y1="88.3" x2="278.0" y2="88.3" stroke="#a9a99c" stroke-width="0.4"/>
<text transform="translate(260.4,90.85) scale(1,1.3)" font-size="2.9" font-weight="normal" fill="#111" stroke="#111" stroke-width="0.06" text-anchor="middle">587</text>
<text transform="translate(273.8,90.85) scale(1,1.3)" font-size="2.9" font-weight="normal" fill="#111" stroke="#111" stroke-width="0.06" text-anchor="middle">22</text>
<rect x="168.5" y="91.6" width="109.5" height="19.2" fill="#fff"/>
<text transform="translate(172.5,102.44) scale(1,1.3)" font-size="2.9" font-weight="normal" fill="#111" stroke="#111" stroke-width="0.06" text-anchor="middle">8</text>
<text transform="translate(187.3,96.44) scale(1,1.3)" font-size="2.9" font-weight="normal" fill="#111" stroke="#111" stroke-width="0.06" text-anchor="middle">Brito et al.</text>
<text transform="translate(187.3,100.44) scale(1,1.3)" font-size="2.9" font-weight="normal" fill="#111" stroke="#111" stroke-width="0.06" text-anchor="middle">(2014)(Brito,</text>
<text transform="translate(187.3,104.44) scale(1,1.3)" font-size="2.9" font-weight="normal" fill="#111" stroke="#111" stroke-width="0.06" text-anchor="middle">Pereyra and</text>
<text transform="translate(187.3,108.44) scale(1,1.3)" font-size="2.9" font-weight="normal" fill="#111" stroke="#111" stroke-width="0.06" text-anchor="middle">Sarica)ᶠ</text>
<text transform="translate(201,102.44) scale(1,1.3)" font-size="2.9" font-weight="normal" fill="#111" stroke="#111" stroke-width="0.06" text-anchor="middle">50.8</text>
<text transform="translate(210.6,102.44) scale(1,1.3)" font-size="2.9" font-weight="normal" fill="#111" stroke="#111" stroke-width="0.06" text-anchor="middle">18.9</text>
<text transform="translate(226.5,102.44) scale(1,1.3)" font-size="2.9" font-weight="normal" fill="#111" stroke="#111" stroke-width="0.06" text-anchor="middle">Air/Mineral Oil</text>
<text transform="translate(244.6,102.44) scale(1,1.3)" font-size="2.9" font-weight="normal" fill="#111" stroke="#111" stroke-width="0.06" text-anchor="middle">875</text>
<text transform="translate(260.4,94.42) scale(1,1.3)" font-size="2.9" font-weight="normal" fill="#111" stroke="#111" stroke-width="0.06" text-anchor="middle">39</text>
<text transform="translate(273.8,94.42) scale(1,1.3)" font-size="2.9" font-weight="normal" fill="#111" stroke="#111" stroke-width="0.06" text-anchor="middle">4</text>
<line x1="252.5" y1="95.44" x2="278.0" y2="95.44" stroke="#a9a99c" stroke-width="0.4"/>
<text transform="translate(260.4,98.26) scale(1,1.3)" font-size="2.9" font-weight="normal" fill="#111" stroke="#111" stroke-width="0.06" text-anchor="middle">69</text>
<text transform="translate(273.8,98.26) scale(1,1.3)" font-size="2.9" font-weight="normal" fill="#111" stroke="#111" stroke-width="0.06" text-anchor="middle">18</text>
<line x1="252.5" y1="99.28" x2="278.0" y2="99.28" stroke="#a9a99c" stroke-width="0.4"/>
<text transform="translate(260.4,102.1) scale(1,1.3)" font-size="2.9" font-weight="normal" fill="#111" stroke="#111" stroke-width="0.06" text-anchor="middle">108</text>
<text transform="translate(273.8,102.1) scale(1,1.3)" font-size="2.9" font-weight="normal" fill="#111" stroke="#111" stroke-width="0.06" text-anchor="middle">2</text>
<line x1="252.5" y1="103.12" x2="278.0" y2="103.12" stroke="#a9a99c" stroke-width="0.4"/>
<text transform="translate(260.4,105.94) scale(1,1.3)" font-size="2.9" font-weight="normal" fill="#111" stroke="#111" stroke-width="0.06" text-anchor="middle">150</text>
<text transform="translate(273.8,105.94) scale(1,1.3)" font-size="2.9" font-weight="normal" fill="#111" stroke="#111" stroke-width="0.06" text-anchor="middle">9</text>
<line x1="252.5" y1="106.96" x2="278.0" y2="106.96" stroke="#a9a99c" stroke-width="0.4"/>
<text transform="translate(260.4,109.78) scale(1,1.3)" font-size="2.9" font-weight="normal" fill="#111" stroke="#111" stroke-width="0.06" text-anchor="middle">180</text>
<text transform="translate(273.8,109.78) scale(1,1.3)" font-size="2.9" font-weight="normal" fill="#111" stroke="#111" stroke-width="0.06" text-anchor="middle">6</text>
<rect x="168.5" y="110.8" width="109.5" height="17.3" fill="#e9eddc"/>
<text transform="translate(172.5,120.69) scale(1,1.3)" font-size="2.9" font-weight="normal" fill="#111" stroke="#111" stroke-width="0.06" text-anchor="middle">9</text>
<text transform="translate(187.3,114.69) scale(1,1.3)" font-size="2.9" font-weight="normal" fill="#111" stroke="#111" stroke-width="0.06" text-anchor="middle">Zhao et al.</text>
<text transform="translate(187.3,118.69) scale(1,1.3)" font-size="2.9" font-weight="normal" fill="#111" stroke="#111" stroke-width="0.06" text-anchor="middle">(2013)(Zhao,</text>
<text transform="translate(187.3,122.69) scale(1,1.3)" font-size="2.9" font-weight="normal" fill="#111" stroke="#111" stroke-width="0.06" text-anchor="middle">Yeung and</text>
<text transform="translate(187.3,126.69) scale(1,1.3)" font-size="2.9" font-weight="normal" fill="#111" stroke="#111" stroke-width="0.06" text-anchor="middle">Lao)ᵍ</text>
<text transform="translate(201,120.69) scale(1,1.3)" font-size="2.9" font-weight="normal" fill="#111" stroke="#111" stroke-width="0.06" text-anchor="middle">76</text>
<text transform="translate(210.6,120.69) scale(1,1.3)" font-size="2.9" font-weight="normal" fill="#111" stroke="#111" stroke-width="0.06" text-anchor="middle">17</text>
<text transform="translate(226.5,118.69) scale(1,1.3)" font-size="2.9" font-weight="normal" fill="#111" stroke="#111" stroke-width="0.06" text-anchor="middle">Air/High</text>
<text transform="translate(226.5,122.69) scale(1,1.3)" font-size="2.9" font-weight="normal" fill="#111" stroke="#111" stroke-width="0.06" text-anchor="middle">Viscosity Oil</text>
<text transform="translate(244.6,120.69) scale(1,1.3)" font-size="2.9" font-weight="normal" fill="#111" stroke="#111" stroke-width="0.06" text-anchor="middle">918</text>
<text transform="translate(260.4,114.58) scale(1,1.3)" font-size="2.9" font-weight="normal" fill="#111" stroke="#111" stroke-width="0.06" text-anchor="middle">1519-3280</text>
<text transform="translate(273.8,114.58) scale(1,1.3)" font-size="2.9" font-weight="normal" fill="#111" stroke="#111" stroke-width="0.06" text-anchor="middle">19</text>
<line x1="252.5" y1="116.57" x2="278.0" y2="116.57" stroke="#a9a99c" stroke-width="0.4"/>
<text transform="translate(260.4,120.35) scale(1,1.3)" font-size="2.9" font-weight="normal" fill="#111" stroke="#111" stroke-width="0.06" text-anchor="middle">1011-2983</text>
<text transform="translate(273.8,120.35) scale(1,1.3)" font-size="2.9" font-weight="normal" fill="#111" stroke="#111" stroke-width="0.06" text-anchor="middle">16</text>
<line x1="252.5" y1="122.33" x2="278.0" y2="122.33" stroke="#a9a99c" stroke-width="0.4"/>
<text transform="translate(260.4,126.12) scale(1,1.3)" font-size="2.9" font-weight="normal" fill="#111" stroke="#111" stroke-width="0.06" text-anchor="middle">5847-6246</text>
<text transform="translate(273.8,126.12) scale(1,1.3)" font-size="2.9" font-weight="normal" fill="#111" stroke="#111" stroke-width="0.06" text-anchor="middle">30</text>
<rect x="168.5" y="128.1" width="109.5" height="9.3" fill="#fff"/>
<text transform="translate(172.5,133.99) scale(1,1.3)" font-size="2.9" font-weight="normal" fill="#111" stroke="#111" stroke-width="0.06" text-anchor="middle">10</text>
<text transform="translate(187.3,131.99) scale(1,1.3)" font-size="2.9" font-weight="normal" fill="#111" stroke="#111" stroke-width="0.06" text-anchor="middle">Abdulkadir et</text>
<text transform="translate(187.3,135.99) scale(1,1.3)" font-size="2.9" font-weight="normal" fill="#111" stroke="#111" stroke-width="0.06" text-anchor="middle">al. (2016)ʰ</text>
<text transform="translate(201,133.99) scale(1,1.3)" font-size="2.9" font-weight="normal" fill="#111" stroke="#111" stroke-width="0.06" text-anchor="middle">67</text>
<text transform="translate(210.6,133.99) scale(1,1.3)" font-size="2.9" font-weight="normal" fill="#111" stroke="#111" stroke-width="0.06" text-anchor="middle">6</text>
<text transform="translate(226.5,133.99) scale(1,1.3)" font-size="2.9" font-weight="normal" fill="#111" stroke="#111" stroke-width="0.06" text-anchor="middle">Air/Silicone Oil</text>
<text transform="translate(244.6,133.99) scale(1,1.3)" font-size="2.9" font-weight="normal" fill="#111" stroke="#111" stroke-width="0.06" text-anchor="middle">900</text>
<text transform="translate(260.4,133.99) scale(1,1.3)" font-size="2.9" font-weight="normal" fill="#111" stroke="#111" stroke-width="0.06" text-anchor="middle">5,500</text>
<text transform="translate(273.8,133.99) scale(1,1.3)" font-size="2.9" font-weight="normal" fill="#111" stroke="#111" stroke-width="0.06" text-anchor="middle">41</text>
<rect x="168.5" y="137.4" width="109.5" height="22" fill="#e9eddc"/>
<text transform="translate(172.5,149.64) scale(1,1.3)" font-size="2.9" font-weight="normal" fill="#111" stroke="#111" stroke-width="0.06" text-anchor="middle">11</text>
<text transform="translate(187.3,147.64) scale(1,1.3)" font-size="2.9" font-weight="normal" fill="#111" stroke="#111" stroke-width="0.06" text-anchor="middle">Baba et al.</text>
<text transform="translate(187.3,151.64) scale(1,1.3)" font-size="2.9" font-weight="normal" fill="#111" stroke="#111" stroke-width="0.06" text-anchor="middle">(2019)ⁱ</text>
<text transform="translate(201,149.64) scale(1,1.3)" font-size="2.9" font-weight="normal" fill="#111" stroke="#111" stroke-width="0.06" text-anchor="middle">76.2</text>
<text transform="translate(210.6,149.64) scale(1,1.3)" font-size="2.9" font-weight="normal" fill="#111" stroke="#111" stroke-width="0.06" text-anchor="middle">17</text>
<line x1="215.7" y1="141" x2="278.0" y2="141" stroke="#a9a99c" stroke-width="0.4"/>
<text transform="translate(226.5,140.1) scale(1,1.3)" font-size="2.9" font-weight="normal" fill="#111" stroke="#111" stroke-width="0.06" text-anchor="middle">Air/Water</text>
<text transform="translate(244.6,140.1) scale(1,1.3)" font-size="2.9" font-weight="normal" fill="#111" stroke="#111" stroke-width="0.06" text-anchor="middle">998</text>
<text transform="translate(260.4,140.1) scale(1,1.3)" font-size="2.9" font-weight="normal" fill="#111" stroke="#111" stroke-width="0.06" text-anchor="middle">1.000</text>
<text transform="translate(273.8,140.1) scale(1,1.3)" font-size="2.9" font-weight="normal" fill="#111" stroke="#111" stroke-width="0.06" text-anchor="middle">36</text>
<text transform="translate(226.5,151.44) scale(1,1.3)" font-size="2.9" font-weight="normal" fill="#111" stroke="#111" stroke-width="0.06" text-anchor="middle">Air/Mineral Oil</text>
<text transform="translate(244.6,151.44) scale(1,1.3)" font-size="2.9" font-weight="normal" fill="#111" stroke="#111" stroke-width="0.06" text-anchor="middle">873</text>
<text transform="translate(260.4,144.2) scale(1,1.3)" font-size="2.9" font-weight="normal" fill="#111" stroke="#111" stroke-width="0.06" text-anchor="middle">1200-7000</text>
<text transform="translate(273.8,144.2) scale(1,1.3)" font-size="2.9" font-weight="normal" fill="#111" stroke="#111" stroke-width="0.06" text-anchor="middle">7</text>
<line x1="252.3" y1="145.6" x2="278.0" y2="145.6" stroke="#a9a99c" stroke-width="0.4"/>
<text transform="translate(260.4,148.8) scale(1,1.3)" font-size="2.9" font-weight="normal" fill="#111" stroke="#111" stroke-width="0.06" text-anchor="middle">1200-7000</text>
<text transform="translate(273.8,148.8) scale(1,1.3)" font-size="2.9" font-weight="normal" fill="#111" stroke="#111" stroke-width="0.06" text-anchor="middle">7</text>
<line x1="252.3" y1="150.2" x2="278.0" y2="150.2" stroke="#a9a99c" stroke-width="0.4"/>
<text transform="translate(260.4,153.4) scale(1,1.3)" font-size="2.9" font-weight="normal" fill="#111" stroke="#111" stroke-width="0.06" text-anchor="middle">3400-7000</text>
<text transform="translate(273.8,153.4) scale(1,1.3)" font-size="2.9" font-weight="normal" fill="#111" stroke="#111" stroke-width="0.06" text-anchor="middle">5</text>
<line x1="252.3" y1="154.8" x2="278.0" y2="154.8" stroke="#a9a99c" stroke-width="0.4"/>
<text transform="translate(260.4,158) scale(1,1.3)" font-size="2.9" font-weight="normal" fill="#111" stroke="#111" stroke-width="0.06" text-anchor="middle">4200-6900</text>
<text transform="translate(273.8,158) scale(1,1.3)" font-size="2.9" font-weight="normal" fill="#111" stroke="#111" stroke-width="0.06" text-anchor="middle">13</text>
<rect x="168.5" y="159.4" width="109.5" height="18.5" fill="#fff"/>
<text transform="translate(172.5,169.89) scale(1,1.3)" font-size="2.9" font-weight="normal" fill="#111" stroke="#111" stroke-width="0.06" text-anchor="middle">12</text>
<text transform="translate(187.3,169.89) scale(1,1.3)" font-size="2.9" font-weight="normal" fill="#111" stroke="#111" stroke-width="0.06" text-anchor="middle">Kim (2019)ʲ</text>
<text transform="translate(201,169.89) scale(1,1.3)" font-size="2.9" font-weight="normal" fill="#111" stroke="#111" stroke-width="0.06" text-anchor="middle">50.8</text>
<text transform="translate(210.6,169.89) scale(1,1.3)" font-size="2.9" font-weight="normal" fill="#111" stroke="#111" stroke-width="0.06" text-anchor="middle">18.9</text>
<text transform="translate(226.5,167.89) scale(1,1.3)" font-size="2.9" font-weight="normal" fill="#111" stroke="#111" stroke-width="0.06" text-anchor="middle">Air/Synthetic</text>
<text transform="translate(226.5,171.89) scale(1,1.3)" font-size="2.9" font-weight="normal" fill="#111" stroke="#111" stroke-width="0.06" text-anchor="middle">Oil</text>
<text transform="translate(244.6,162.61) scale(1,1.3)" font-size="2.9" font-weight="normal" fill="#111" stroke="#111" stroke-width="0.06" text-anchor="middle">831.5</text>
<text transform="translate(260.4,162.61) scale(1,1.3)" font-size="2.9" font-weight="normal" fill="#111" stroke="#111" stroke-width="0.06" text-anchor="middle">7.0</text>
<text transform="translate(273.8,162.61) scale(1,1.3)" font-size="2.9" font-weight="normal" fill="#111" stroke="#111" stroke-width="0.06" text-anchor="middle">13</text>
<line x1="237.9" y1="164.03" x2="278.0" y2="164.03" stroke="#a9a99c" stroke-width="0.4"/>
<text transform="translate(244.6,167.24) scale(1,1.3)" font-size="2.9" font-weight="normal" fill="#111" stroke="#111" stroke-width="0.06" text-anchor="middle">848.5</text>
<text transform="translate(260.4,167.24) scale(1,1.3)" font-size="2.9" font-weight="normal" fill="#111" stroke="#111" stroke-width="0.06" text-anchor="middle">7.4</text>
<text transform="translate(273.8,167.24) scale(1,1.3)" font-size="2.9" font-weight="normal" fill="#111" stroke="#111" stroke-width="0.06" text-anchor="middle">4</text>
<line x1="237.9" y1="168.65" x2="278.0" y2="168.65" stroke="#a9a99c" stroke-width="0.4"/>
<text transform="translate(244.6,171.86) scale(1,1.3)" font-size="2.9" font-weight="normal" fill="#111" stroke="#111" stroke-width="0.06" text-anchor="middle">845.5</text>
<text transform="translate(260.4,171.86) scale(1,1.3)" font-size="2.9" font-weight="normal" fill="#111" stroke="#111" stroke-width="0.06" text-anchor="middle">45</text>
<text transform="translate(273.8,171.86) scale(1,1.3)" font-size="2.9" font-weight="normal" fill="#111" stroke="#111" stroke-width="0.06" text-anchor="middle">17</text>
<line x1="237.9" y1="173.28" x2="278.0" y2="173.28" stroke="#a9a99c" stroke-width="0.4"/>
<text transform="translate(244.6,176.49) scale(1,1.3)" font-size="2.9" font-weight="normal" fill="#111" stroke="#111" stroke-width="0.06" text-anchor="middle">871.1</text>
<text transform="translate(260.4,176.49) scale(1,1.3)" font-size="2.9" font-weight="normal" fill="#111" stroke="#111" stroke-width="0.06" text-anchor="middle">962</text>
<text transform="translate(273.8,176.49) scale(1,1.3)" font-size="2.9" font-weight="normal" fill="#111" stroke="#111" stroke-width="0.06" text-anchor="middle">16</text>
<rect x="168.5" y="177.9" width="109.5" height="8.9" fill="#e9eddc"/>
<text transform="translate(172.5,183.59) scale(1,1.3)" font-size="2.9" font-weight="normal" fill="#111" stroke="#111" stroke-width="0.06" text-anchor="middle">13</text>
<text transform="translate(187.3,181.59) scale(1,1.3)" font-size="2.9" font-weight="normal" fill="#111" stroke="#111" stroke-width="0.06" text-anchor="middle">Soedarmo et al.</text>
<text transform="translate(187.3,185.59) scale(1,1.3)" font-size="2.9" font-weight="normal" fill="#111" stroke="#111" stroke-width="0.06" text-anchor="middle">(2021)ᵏ</text>
<text transform="translate(201,183.59) scale(1,1.3)" font-size="2.9" font-weight="normal" fill="#111" stroke="#111" stroke-width="0.06" text-anchor="middle">38</text>
<text transform="translate(210.6,183.59) scale(1,1.3)" font-size="2.9" font-weight="normal" fill="#111" stroke="#111" stroke-width="0.06" text-anchor="middle">13</text>
<text transform="translate(226.5,183.59) scale(1,1.3)" font-size="2.9" font-weight="normal" fill="#111" stroke="#111" stroke-width="0.06" text-anchor="middle">Air/Water</text>
<text transform="translate(244.6,183.59) scale(1,1.3)" font-size="2.9" font-weight="normal" fill="#111" stroke="#111" stroke-width="0.06" text-anchor="middle">998</text>
<text transform="translate(260.4,183.59) scale(1,1.3)" font-size="2.9" font-weight="normal" fill="#111" stroke="#111" stroke-width="0.06" text-anchor="middle">1.000</text>
<text transform="translate(273.8,183.59) scale(1,1.3)" font-size="2.9" font-weight="normal" fill="#111" stroke="#111" stroke-width="0.06" text-anchor="middle">46</text>
<rect x="168.5" y="186.8" width="109.5" height="4.6" fill="#fff"/>
<text transform="translate(172.5,190.34) scale(1,1.3)" font-size="2.9" font-weight="normal" fill="#111" stroke="#111" stroke-width="0.06" text-anchor="middle">14</text>
<text transform="translate(187.3,190.34) scale(1,1.3)" font-size="2.9" font-weight="normal" fill="#111" stroke="#111" stroke-width="0.06" text-anchor="middle">Long pipe</text>
<text transform="translate(201,190.34) scale(1,1.3)" font-size="2.9" font-weight="normal" fill="#111" stroke="#111" stroke-width="0.06" text-anchor="middle">40</text>
<text transform="translate(210.6,190.34) scale(1,1.3)" font-size="2.9" font-weight="normal" fill="#111" stroke="#111" stroke-width="0.06" text-anchor="middle">50</text>
<text transform="translate(226.5,190.34) scale(1,1.3)" font-size="2.9" font-weight="normal" fill="#111" stroke="#111" stroke-width="0.06" text-anchor="middle">Air/Water</text>
<text transform="translate(244.6,190.34) scale(1,1.3)" font-size="2.9" font-weight="normal" fill="#111" stroke="#111" stroke-width="0.06" text-anchor="middle">998</text>
<text transform="translate(260.4,190.34) scale(1,1.3)" font-size="2.9" font-weight="normal" fill="#111" stroke="#111" stroke-width="0.06" text-anchor="middle">1.000</text>
<text transform="translate(273.8,190.34) scale(1,1.3)" font-size="2.9" font-weight="normal" fill="#111" stroke="#111" stroke-width="0.06" text-anchor="middle">47</text>
<rect x="168.5" y="191.4" width="109.5" height="3.9" fill="#f3f3dc"/>
<text transform="translate(172.5,194.3) scale(1,1.3)" font-size="2.6" font-weight="normal" fill="#111" stroke="#111" stroke-width="0.06" text-anchor="middle">15</text>
<text transform="translate(223,194.3) scale(1,1.3)" font-size="2.6" font-weight="normal" fill="#111" stroke="#111" stroke-width="0.06" text-anchor="middle">Total data</text>
<text transform="translate(273.8,194.3) scale(1,1.3)" font-size="2.6" font-weight="normal" fill="#111" stroke="#111" stroke-width="0.06" text-anchor="middle">471</text>
<line x1="168.5" y1="39.1" x2="278.0" y2="39.1" stroke="#96968e" stroke-width="0.9"/>
<line x1="168.5" y1="43.4" x2="278.0" y2="43.4" stroke="#96968e" stroke-width="0.9"/>
<line x1="168.5" y1="57.4" x2="278.0" y2="57.4" stroke="#96968e" stroke-width="0.9"/>
<line x1="168.5" y1="66.0" x2="278.0" y2="66.0" stroke="#96968e" stroke-width="0.9"/>
<line x1="168.5" y1="75.1" x2="278.0" y2="75.1" stroke="#96968e" stroke-width="0.9"/>
<line x1="168.5" y1="91.6" x2="278.0" y2="91.6" stroke="#96968e" stroke-width="0.9"/>
<line x1="168.5" y1="110.8" x2="278.0" y2="110.8" stroke="#96968e" stroke-width="0.9"/>
<line x1="168.5" y1="128.1" x2="278.0" y2="128.1" stroke="#96968e" stroke-width="0.9"/>
<line x1="168.5" y1="137.4" x2="278.0" y2="137.4" stroke="#96968e" stroke-width="0.9"/>
<line x1="168.5" y1="159.4" x2="278.0" y2="159.4" stroke="#96968e" stroke-width="0.9"/>
<line x1="168.5" y1="177.9" x2="278.0" y2="177.9" stroke="#96968e" stroke-width="0.9"/>
<line x1="168.5" y1="186.8" x2="278.0" y2="186.8" stroke="#96968e" stroke-width="0.9"/>
<line x1="168.5" y1="191.4" x2="278.0" y2="191.4" stroke="#96968e" stroke-width="0.9"/>
<line x1="168.5" y1="29.9" x2="278.0" y2="29.9" stroke="#85857a" stroke-width="1.0"/>
<line x1="168.5" y1="195.5" x2="278.0" y2="195.5" stroke="#6e6e66" stroke-width="1.0"/>
<text x="222.4" y="202.6" font-size="5.9" font-weight="bold" font-style="normal" fill="#000" text-anchor="middle" textLength="70.8" lengthAdjust="spacingAndGlyphs" stroke="#000" stroke-width="0.16" >Slug pressure drop database</text>
<circle cx="340.06" cy="60.60" r="0.56" fill="#111"/>
<circle cx="342.19" cy="65.44" r="0.56" fill="#111"/>
<circle cx="347.35" cy="65.04" r="0.56" fill="#111"/>
<circle cx="324.91" cy="62.00" r="0.56" fill="#111"/>
<circle cx="373.62" cy="70.56" r="0.56" fill="#111"/>
<circle cx="348.46" cy="67.80" r="0.56" fill="#111"/>
<circle cx="343.01" cy="66.48" r="0.56" fill="#111"/>
<circle cx="319.86" cy="44.23" r="0.56" fill="#111"/>
<circle cx="342.64" cy="59.49" r="0.56" fill="#111"/>
<circle cx="340.25" cy="47.83" r="0.56" fill="#111"/>
<circle cx="358.89" cy="68.87" r="0.56" fill="#111"/>
<circle cx="334.26" cy="63.67" r="0.56" fill="#111"/>
<circle cx="359.33" cy="63.59" r="0.56" fill="#111"/>
<circle cx="313.92" cy="46.30" r="0.56" fill="#111"/>
<circle cx="373.25" cy="68.27" r="0.56" fill="#111"/>
<circle cx="354.97" cy="66.58" r="0.56" fill="#111"/>
<circle cx="370.52" cy="69.36" r="0.56" fill="#111"/>
<circle cx="325.57" cy="60.26" r="0.56" fill="#111"/>
<circle cx="344.28" cy="65.64" r="0.56" fill="#111"/>
<circle cx="327.31" cy="57.40" r="0.56" fill="#111"/>
<circle cx="331.25" cy="51.39" r="0.56" fill="#111"/>
<circle cx="334.81" cy="65.61" r="0.56" fill="#111"/>
<circle cx="359.89" cy="68.34" r="0.56" fill="#111"/>
<circle cx="331.26" cy="51.70" r="0.56" fill="#111"/>
<circle cx="334.53" cy="60.11" r="0.56" fill="#111"/>
<circle cx="332.50" cy="59.12" r="0.56" fill="#111"/>
<circle cx="369.82" cy="67.29" r="0.56" fill="#111"/>
<circle cx="329.91" cy="58.25" r="0.56" fill="#111"/>
<circle cx="332.75" cy="57.63" r="0.56" fill="#111"/>
<circle cx="330.53" cy="67.73" r="0.56" fill="#111"/>
<circle cx="362.01" cy="68.62" r="0.56" fill="#111"/>
<circle cx="320.78" cy="60.12" r="0.56" fill="#111"/>
<circle cx="333.05" cy="67.18" r="0.56" fill="#111"/>
<circle cx="345.86" cy="65.28" r="0.56" fill="#111"/>
<circle cx="323.37" cy="45.67" r="0.56" fill="#111"/>
<circle cx="346.65" cy="64.87" r="0.56" fill="#111"/>
<circle cx="318.09" cy="55.54" r="0.56" fill="#111"/>
<circle cx="329.60" cy="60.00" r="0.56" fill="#111"/>
<circle cx="336.82" cy="68.09" r="0.56" fill="#111"/>
<circle cx="350.26" cy="67.72" r="0.56" fill="#111"/>
<circle cx="318.29" cy="58.91" r="0.56" fill="#111"/>
<circle cx="350.75" cy="70.67" r="0.56" fill="#111"/>
<circle cx="341.20" cy="64.80" r="0.56" fill="#111"/>
<circle cx="323.85" cy="44.00" r="0.56" fill="#111"/>
<circle cx="352.64" cy="60.82" r="0.56" fill="#111"/>
<circle cx="336.46" cy="53.39" r="0.56" fill="#111"/>
<circle cx="338.77" cy="59.90" r="0.56" fill="#111"/>
<circle cx="347.12" cy="62.51" r="0.56" fill="#111"/>
<circle cx="324.20" cy="57.45" r="0.56" fill="#111"/>
<circle cx="352.16" cy="68.17" r="0.56" fill="#111"/>
<circle cx="339.62" cy="68.65" r="0.56" fill="#111"/>
<circle cx="324.45" cy="51.05" r="0.56" fill="#111"/>
<circle cx="341.15" cy="64.11" r="0.56" fill="#111"/>
<circle cx="346.65" cy="67.91" r="0.56" fill="#111"/>
<circle cx="334.70" cy="64.32" r="0.56" fill="#111"/>
<circle cx="364.01" cy="66.98" r="0.56" fill="#111"/>
<circle cx="335.61" cy="60.85" r="0.56" fill="#111"/>
<circle cx="356.63" cy="70.70" r="0.56" fill="#111"/>
<circle cx="361.86" cy="67.29" r="0.56" fill="#111"/>
<circle cx="327.59" cy="54.13" r="0.56" fill="#111"/>
<circle cx="351.27" cy="68.64" r="0.56" fill="#111"/>
<circle cx="340.00" cy="63.36" r="0.56" fill="#111"/>
<circle cx="347.16" cy="62.72" r="0.56" fill="#111"/>
<circle cx="373.59" cy="67.12" r="0.56" fill="#111"/>
<circle cx="361.27" cy="68.89" r="0.56" fill="#111"/>
<circle cx="334.98" cy="57.47" r="0.56" fill="#111"/>
<circle cx="340.16" cy="66.57" r="0.56" fill="#111"/>
<circle cx="327.84" cy="57.67" r="0.56" fill="#111"/>
<circle cx="347.35" cy="64.94" r="0.56" fill="#111"/>
<circle cx="349.93" cy="57.82" r="0.56" fill="#111"/>
<circle cx="317.10" cy="56.93" r="0.56" fill="#111"/>
<circle cx="333.64" cy="60.49" r="0.56" fill="#111"/>
<circle cx="346.65" cy="61.48" r="0.56" fill="#111"/>
<circle cx="364.06" cy="68.29" r="0.56" fill="#111"/>
<circle cx="327.25" cy="56.72" r="0.56" fill="#111"/>
<circle cx="337.33" cy="57.24" r="0.56" fill="#111"/>
<circle cx="367.94" cy="67.41" r="0.56" fill="#111"/>
<circle cx="351.83" cy="69.43" r="0.56" fill="#111"/>
<circle cx="347.88" cy="67.28" r="0.56" fill="#111"/>
<circle cx="373.27" cy="72.86" r="0.56" fill="#111"/>
<circle cx="335.39" cy="66.02" r="0.56" fill="#111"/>
<circle cx="359.99" cy="67.13" r="0.56" fill="#111"/>
<circle cx="343.90" cy="66.33" r="0.56" fill="#111"/>
<circle cx="356.83" cy="68.08" r="0.56" fill="#111"/>
<circle cx="335.89" cy="63.53" r="0.56" fill="#111"/>
<circle cx="342.54" cy="62.05" r="0.56" fill="#111"/>
<circle cx="368.12" cy="69.09" r="0.56" fill="#111"/>
<circle cx="331.61" cy="62.53" r="0.56" fill="#111"/>
<circle cx="347.76" cy="64.03" r="0.56" fill="#111"/>
<circle cx="335.08" cy="56.19" r="0.56" fill="#111"/>
<circle cx="331.05" cy="66.00" r="0.56" fill="#111"/>
<circle cx="344.85" cy="65.66" r="0.56" fill="#111"/>
<circle cx="346.24" cy="67.40" r="0.56" fill="#111"/>
<circle cx="338.17" cy="66.51" r="0.56" fill="#111"/>
<circle cx="344.43" cy="66.70" r="0.56" fill="#111"/>
<circle cx="343.43" cy="55.63" r="0.56" fill="#111"/>
<circle cx="333.52" cy="60.36" r="0.56" fill="#111"/>
<circle cx="357.25" cy="70.51" r="0.56" fill="#111"/>
<circle cx="330.30" cy="63.27" r="0.56" fill="#111"/>
<circle cx="355.01" cy="68.29" r="0.56" fill="#111"/>
<circle cx="350.05" cy="64.87" r="0.56" fill="#111"/>
<circle cx="325.81" cy="54.18" r="0.56" fill="#111"/>
<circle cx="332.80" cy="58.19" r="0.56" fill="#111"/>
<circle cx="337.29" cy="64.25" r="0.56" fill="#111"/>
<circle cx="330.87" cy="62.71" r="0.56" fill="#111"/>
<circle cx="359.67" cy="66.99" r="0.56" fill="#111"/>
<circle cx="352.84" cy="69.59" r="0.56" fill="#111"/>
<circle cx="363.74" cy="69.08" r="0.56" fill="#111"/>
<circle cx="331.47" cy="64.87" r="0.56" fill="#111"/>
<circle cx="332.35" cy="62.06" r="0.56" fill="#111"/>
<circle cx="358.34" cy="67.95" r="0.56" fill="#111"/>
<circle cx="338.25" cy="63.61" r="0.56" fill="#111"/>
<circle cx="349.82" cy="68.42" r="0.56" fill="#111"/>
<circle cx="371.16" cy="66.95" r="0.56" fill="#111"/>
<circle cx="341.99" cy="66.67" r="0.56" fill="#111"/>
<circle cx="325.89" cy="53.02" r="0.56" fill="#111"/>
<circle cx="344.67" cy="66.72" r="0.56" fill="#111"/>
<circle cx="358.89" cy="69.89" r="0.56" fill="#111"/>
<circle cx="322.84" cy="61.28" r="0.56" fill="#111"/>
<circle cx="340.43" cy="64.51" r="0.56" fill="#111"/>
<circle cx="342.49" cy="66.57" r="0.56" fill="#111"/>
<circle cx="350.75" cy="69.15" r="0.56" fill="#111"/>
<circle cx="352.76" cy="64.98" r="0.56" fill="#111"/>
<circle cx="342.38" cy="65.25" r="0.56" fill="#111"/>
<circle cx="350.94" cy="70.23" r="0.56" fill="#111"/>
<circle cx="347.32" cy="63.03" r="0.56" fill="#111"/>
<circle cx="373.72" cy="70.31" r="0.56" fill="#111"/>
<circle cx="353.04" cy="60.64" r="0.56" fill="#111"/>
<circle cx="363.21" cy="71.06" r="0.56" fill="#111"/>
<circle cx="350.44" cy="67.26" r="0.56" fill="#111"/>
<circle cx="351.87" cy="66.78" r="0.56" fill="#111"/>
<circle cx="317.07" cy="48.89" r="0.56" fill="#111"/>
<circle cx="332.05" cy="65.12" r="0.56" fill="#111"/>
<circle cx="348.73" cy="64.00" r="0.56" fill="#111"/>
<circle cx="380.41" cy="69.66" r="0.56" fill="#111"/>
<circle cx="373.19" cy="66.34" r="0.56" fill="#111"/>
<circle cx="333.03" cy="57.74" r="0.56" fill="#111"/>
<circle cx="337.29" cy="64.63" r="0.56" fill="#111"/>
<circle cx="343.89" cy="57.21" r="0.56" fill="#111"/>
<circle cx="377.13" cy="69.88" r="0.56" fill="#111"/>
<circle cx="345.91" cy="67.55" r="0.56" fill="#111"/>
<circle cx="328.82" cy="59.02" r="0.56" fill="#111"/>
<circle cx="346.51" cy="63.69" r="0.56" fill="#111"/>
<circle cx="342.95" cy="65.18" r="0.56" fill="#111"/>
<circle cx="348.51" cy="65.16" r="0.56" fill="#111"/>
<circle cx="334.52" cy="54.93" r="0.56" fill="#111"/>
<circle cx="328.65" cy="60.01" r="0.56" fill="#111"/>
<circle cx="353.25" cy="65.29" r="0.56" fill="#111"/>
<circle cx="323.72" cy="61.61" r="0.56" fill="#111"/>
<circle cx="339.22" cy="62.02" r="0.56" fill="#111"/>
<circle cx="342.81" cy="67.72" r="0.56" fill="#111"/>
<circle cx="372.95" cy="71.87" r="0.56" fill="#111"/>
<circle cx="346.17" cy="63.51" r="0.56" fill="#111"/>
<circle cx="330.85" cy="60.35" r="0.56" fill="#111"/>
<circle cx="339.71" cy="62.38" r="0.56" fill="#111"/>
<circle cx="345.25" cy="65.81" r="0.56" fill="#111"/>
<circle cx="378.31" cy="70.42" r="0.56" fill="#111"/>
<circle cx="326.35" cy="63.63" r="0.56" fill="#111"/>
<circle cx="355.31" cy="67.68" r="0.56" fill="#111"/>
<circle cx="349.96" cy="62.72" r="0.56" fill="#111"/>
<circle cx="353.53" cy="70.65" r="0.56" fill="#111"/>
<circle cx="364.94" cy="70.23" r="0.56" fill="#111"/>
<circle cx="333.59" cy="64.04" r="0.56" fill="#111"/>
<circle cx="343.55" cy="66.71" r="0.56" fill="#111"/>
<circle cx="343.92" cy="62.99" r="0.56" fill="#111"/>
<circle cx="331.15" cy="58.30" r="0.56" fill="#111"/>
<circle cx="323.78" cy="46.10" r="0.56" fill="#111"/>
<circle cx="354.40" cy="63.72" r="0.56" fill="#111"/>
<circle cx="356.88" cy="66.77" r="0.56" fill="#111"/>
<circle cx="335.56" cy="49.51" r="0.56" fill="#111"/>
<circle cx="339.15" cy="54.35" r="0.56" fill="#111"/>
<circle cx="324.08" cy="51.24" r="0.56" fill="#111"/>
<circle cx="349.97" cy="66.44" r="0.56" fill="#111"/>
<circle cx="331.26" cy="61.90" r="0.56" fill="#111"/>
<circle cx="351.99" cy="66.84" r="0.56" fill="#111"/>
<circle cx="336.67" cy="62.10" r="0.56" fill="#111"/>
<circle cx="351.17" cy="68.40" r="0.56" fill="#111"/>
<circle cx="364.72" cy="67.49" r="0.56" fill="#111"/>
<circle cx="335.29" cy="61.51" r="0.56" fill="#111"/>
<circle cx="332.71" cy="58.35" r="0.56" fill="#111"/>
<circle cx="337.99" cy="62.10" r="0.56" fill="#111"/>
<circle cx="356.08" cy="65.47" r="0.56" fill="#111"/>
<circle cx="329.62" cy="56.03" r="0.56" fill="#111"/>
<circle cx="318.90" cy="53.10" r="0.56" fill="#111"/>
<circle cx="370.86" cy="69.46" r="0.56" fill="#111"/>
<circle cx="343.76" cy="66.01" r="0.56" fill="#111"/>
<circle cx="352.63" cy="68.98" r="0.56" fill="#111"/>
<circle cx="324.51" cy="54.32" r="0.56" fill="#111"/>
<circle cx="348.23" cy="67.85" r="0.56" fill="#111"/>
<circle cx="342.74" cy="63.98" r="0.56" fill="#111"/>
<circle cx="371.15" cy="67.82" r="0.56" fill="#111"/>
<circle cx="351.78" cy="64.65" r="0.56" fill="#111"/>
<circle cx="357.94" cy="64.82" r="0.56" fill="#111"/>
<circle cx="358.45" cy="71.43" r="0.56" fill="#111"/>
<circle cx="342.83" cy="65.66" r="0.56" fill="#111"/>
<circle cx="338.89" cy="60.36" r="0.56" fill="#111"/>
<circle cx="337.29" cy="47.24" r="0.56" fill="#111"/>
<circle cx="334.37" cy="66.71" r="0.56" fill="#111"/>
<circle cx="322.62" cy="52.47" r="0.56" fill="#111"/>
<circle cx="354.82" cy="65.61" r="0.56" fill="#111"/>
<circle cx="345.32" cy="68.48" r="0.56" fill="#111"/>
<circle cx="329.99" cy="63.08" r="0.56" fill="#111"/>
<circle cx="345.79" cy="60.29" r="0.56" fill="#111"/>
<circle cx="329.43" cy="57.80" r="0.56" fill="#111"/>
<circle cx="357.34" cy="65.37" r="0.56" fill="#111"/>
<circle cx="364.80" cy="63.76" r="0.56" fill="#111"/>
<circle cx="341.21" cy="64.51" r="0.56" fill="#111"/>
<circle cx="356.35" cy="65.78" r="0.56" fill="#111"/>
<circle cx="333.72" cy="65.23" r="0.56" fill="#111"/>
<circle cx="348.63" cy="63.17" r="0.56" fill="#111"/>
<circle cx="337.15" cy="63.00" r="0.56" fill="#111"/>
<circle cx="328.68" cy="61.35" r="0.56" fill="#111"/>
<circle cx="361.00" cy="62.37" r="0.56" fill="#111"/>
<circle cx="333.42" cy="59.02" r="0.56" fill="#111"/>
<circle cx="314.46" cy="58.00" r="0.56" fill="#111"/>
<circle cx="324.35" cy="49.16" r="0.56" fill="#111"/>
<circle cx="341.11" cy="65.39" r="0.56" fill="#111"/>
<circle cx="360.11" cy="68.51" r="0.56" fill="#111"/>
<circle cx="365.04" cy="67.90" r="0.56" fill="#111"/>
<circle cx="343.62" cy="65.08" r="0.56" fill="#111"/>
<circle cx="335.07" cy="55.57" r="0.56" fill="#111"/>
<circle cx="340.62" cy="63.92" r="0.56" fill="#111"/>
<circle cx="325.86" cy="51.21" r="0.56" fill="#111"/>
<circle cx="358.17" cy="68.00" r="0.56" fill="#111"/>
<circle cx="351.21" cy="67.45" r="0.56" fill="#111"/>
<circle cx="317.05" cy="58.59" r="0.56" fill="#111"/>
<circle cx="356.23" cy="66.62" r="0.56" fill="#111"/>
<circle cx="337.30" cy="64.84" r="0.56" fill="#111"/>
<circle cx="337.87" cy="66.37" r="0.56" fill="#111"/>
<circle cx="352.33" cy="63.59" r="0.56" fill="#111"/>
<circle cx="351.93" cy="67.48" r="0.56" fill="#111"/>
<circle cx="327.84" cy="56.88" r="0.56" fill="#111"/>
<circle cx="329.77" cy="57.83" r="0.56" fill="#111"/>
<circle cx="324.87" cy="59.85" r="0.56" fill="#111"/>
<circle cx="338.40" cy="60.30" r="0.56" fill="#111"/>
<circle cx="342.34" cy="64.95" r="0.56" fill="#111"/>
<circle cx="337.65" cy="65.15" r="0.56" fill="#111"/>
<circle cx="338.18" cy="55.44" r="0.56" fill="#111"/>
<circle cx="348.76" cy="64.28" r="0.56" fill="#111"/>
<circle cx="336.14" cy="61.16" r="0.56" fill="#111"/>
<circle cx="342.25" cy="63.03" r="0.56" fill="#111"/>
<circle cx="328.74" cy="55.20" r="0.56" fill="#111"/>
<circle cx="336.49" cy="60.30" r="0.56" fill="#111"/>
<circle cx="374.64" cy="68.12" r="0.56" fill="#111"/>
<circle cx="330.56" cy="64.68" r="0.56" fill="#111"/>
<circle cx="324.41" cy="56.82" r="0.56" fill="#111"/>
<circle cx="335.69" cy="66.60" r="0.56" fill="#111"/>
<circle cx="336.79" cy="55.14" r="0.56" fill="#111"/>
<circle cx="327.56" cy="64.95" r="0.56" fill="#111"/>
<circle cx="344.32" cy="67.68" r="0.56" fill="#111"/>
<circle cx="357.37" cy="64.80" r="0.56" fill="#111"/>
<circle cx="334.24" cy="67.13" r="0.56" fill="#111"/>
<circle cx="332.41" cy="61.96" r="0.56" fill="#111"/>
<circle cx="343.80" cy="64.43" r="0.56" fill="#111"/>
<circle cx="374.69" cy="70.91" r="0.56" fill="#111"/>
<circle cx="349.28" cy="64.41" r="0.56" fill="#111"/>
<circle cx="356.50" cy="66.36" r="0.56" fill="#111"/>
<circle cx="327.95" cy="54.68" r="0.56" fill="#111"/>
<circle cx="342.67" cy="65.42" r="0.56" fill="#111"/>
<circle cx="347.89" cy="66.17" r="0.56" fill="#111"/>
<circle cx="369.84" cy="68.38" r="0.56" fill="#111"/>
<circle cx="347.07" cy="67.10" r="0.56" fill="#111"/>
<circle cx="341.33" cy="69.69" r="0.56" fill="#111"/>
<circle cx="358.75" cy="70.67" r="0.56" fill="#111"/>
<circle cx="344.56" cy="68.56" r="0.56" fill="#111"/>
<circle cx="342.91" cy="57.57" r="0.56" fill="#111"/>
<circle cx="335.40" cy="61.78" r="0.56" fill="#111"/>
<circle cx="352.36" cy="67.98" r="0.56" fill="#111"/>
<circle cx="345.73" cy="64.54" r="0.56" fill="#111"/>
<circle cx="341.99" cy="59.59" r="0.56" fill="#111"/>
<circle cx="342.92" cy="66.24" r="0.56" fill="#111"/>
<circle cx="332.21" cy="48.17" r="0.56" fill="#111"/>
<circle cx="349.02" cy="70.74" r="0.56" fill="#111"/>
<circle cx="331.62" cy="56.87" r="0.56" fill="#111"/>
<circle cx="325.42" cy="55.68" r="0.56" fill="#111"/>
<circle cx="368.75" cy="68.38" r="0.56" fill="#111"/>
<circle cx="335.54" cy="61.02" r="0.56" fill="#111"/>
<circle cx="338.05" cy="59.13" r="0.56" fill="#111"/>
<circle cx="319.98" cy="59.75" r="0.56" fill="#111"/>
<circle cx="334.94" cy="48.09" r="0.56" fill="#111"/>
<circle cx="340.83" cy="64.82" r="0.56" fill="#111"/>
<circle cx="363.23" cy="67.89" r="0.56" fill="#111"/>
<circle cx="340.82" cy="51.87" r="0.56" fill="#111"/>
<circle cx="330.77" cy="60.07" r="0.56" fill="#111"/>
<circle cx="321.84" cy="58.80" r="0.56" fill="#111"/>
<circle cx="363.53" cy="69.78" r="0.56" fill="#111"/>
<circle cx="350.50" cy="69.22" r="0.56" fill="#111"/>
<circle cx="339.80" cy="66.36" r="0.56" fill="#111"/>
<circle cx="351.24" cy="67.69" r="0.56" fill="#111"/>
<circle cx="348.96" cy="64.41" r="0.56" fill="#111"/>
<circle cx="362.20" cy="69.80" r="0.56" fill="#111"/>
<circle cx="366.03" cy="70.30" r="0.56" fill="#111"/>
<circle cx="324.86" cy="63.65" r="0.56" fill="#111"/>
<circle cx="343.11" cy="64.62" r="0.56" fill="#111"/>
<circle cx="332.81" cy="65.39" r="0.56" fill="#111"/>
<circle cx="324.68" cy="61.00" r="0.56" fill="#111"/>
<circle cx="333.89" cy="60.79" r="0.56" fill="#111"/>
<circle cx="374.87" cy="67.53" r="0.56" fill="#111"/>
<circle cx="337.61" cy="67.00" r="0.56" fill="#111"/>
<circle cx="344.14" cy="66.93" r="0.56" fill="#111"/>
<circle cx="355.23" cy="63.71" r="0.56" fill="#111"/>
<circle cx="349.92" cy="68.43" r="0.56" fill="#111"/>
<circle cx="355.03" cy="67.91" r="0.56" fill="#111"/>
<circle cx="339.62" cy="64.16" r="0.56" fill="#111"/>
<circle cx="332.21" cy="52.68" r="0.56" fill="#111"/>
<circle cx="341.84" cy="59.16" r="0.56" fill="#111"/>
<circle cx="344.84" cy="69.12" r="0.56" fill="#111"/>
<circle cx="329.78" cy="55.32" r="0.56" fill="#111"/>
<circle cx="339.41" cy="66.89" r="0.56" fill="#111"/>
<circle cx="323.65" cy="63.12" r="0.56" fill="#111"/>
<circle cx="355.75" cy="67.61" r="0.56" fill="#111"/>
<circle cx="321.14" cy="53.62" r="0.56" fill="#111"/>
<circle cx="333.35" cy="60.20" r="0.56" fill="#111"/>
<circle cx="329.38" cy="56.98" r="0.56" fill="#111"/>
<circle cx="358.25" cy="65.98" r="0.56" fill="#111"/>
<circle cx="336.90" cy="63.60" r="0.56" fill="#111"/>
<circle cx="341.48" cy="67.15" r="0.56" fill="#111"/>
<circle cx="340.17" cy="66.93" r="0.56" fill="#111"/>
<circle cx="362.66" cy="68.63" r="0.56" fill="#111"/>
<circle cx="339.03" cy="65.57" r="0.56" fill="#111"/>
<circle cx="354.09" cy="66.31" r="0.56" fill="#111"/>
<circle cx="343.97" cy="62.07" r="0.56" fill="#111"/>
<circle cx="336.88" cy="63.29" r="0.56" fill="#111"/>
<circle cx="320.88" cy="58.45" r="0.56" fill="#111"/>
<circle cx="336.17" cy="64.43" r="0.56" fill="#111"/>
<circle cx="362.35" cy="66.03" r="0.56" fill="#111"/>
<circle cx="337.48" cy="58.75" r="0.56" fill="#111"/>
<circle cx="329.95" cy="57.45" r="0.56" fill="#111"/>
<circle cx="331.31" cy="59.82" r="0.56" fill="#111"/>
<circle cx="376.48" cy="68.71" r="0.56" fill="#111"/>
<circle cx="337.55" cy="62.59" r="0.56" fill="#111"/>
<circle cx="333.72" cy="59.19" r="0.56" fill="#111"/>
<circle cx="337.90" cy="67.21" r="0.56" fill="#111"/>
<circle cx="351.48" cy="67.32" r="0.56" fill="#111"/>
<circle cx="367.07" cy="68.43" r="0.56" fill="#111"/>
<circle cx="364.14" cy="69.33" r="0.56" fill="#111"/>
<circle cx="324.41" cy="62.88" r="0.56" fill="#111"/>
<circle cx="342.65" cy="58.80" r="0.56" fill="#111"/>
<circle cx="320.99" cy="55.98" r="0.56" fill="#111"/>
<circle cx="335.10" cy="64.00" r="0.56" fill="#111"/>
<circle cx="351.04" cy="67.69" r="0.56" fill="#111"/>
<circle cx="328.17" cy="52.00" r="0.56" fill="#111"/>
<circle cx="338.34" cy="57.22" r="0.56" fill="#111"/>
<circle cx="334.37" cy="61.61" r="0.56" fill="#111"/>
<circle cx="319.19" cy="55.41" r="0.56" fill="#111"/>
<circle cx="372.36" cy="68.00" r="0.56" fill="#111"/>
<circle cx="331.39" cy="49.46" r="0.56" fill="#111"/>
<circle cx="360.93" cy="63.56" r="0.56" fill="#111"/>
<circle cx="339.15" cy="65.17" r="0.56" fill="#111"/>
<circle cx="335.66" cy="63.05" r="0.56" fill="#111"/>
<circle cx="338.24" cy="63.21" r="0.56" fill="#111"/>
<circle cx="332.37" cy="55.25" r="0.56" fill="#111"/>
<circle cx="328.36" cy="56.43" r="0.56" fill="#111"/>
<circle cx="350.71" cy="62.88" r="0.56" fill="#111"/>
<circle cx="322.92" cy="56.77" r="0.56" fill="#111"/>
<circle cx="345.40" cy="65.55" r="0.56" fill="#111"/>
<circle cx="319.07" cy="53.66" r="0.56" fill="#111"/>
<circle cx="333.24" cy="59.56" r="0.56" fill="#111"/>
<circle cx="346.69" cy="69.56" r="0.56" fill="#111"/>
<circle cx="336.84" cy="55.35" r="0.56" fill="#111"/>
<circle cx="347.23" cy="64.26" r="0.56" fill="#111"/>
<circle cx="333.78" cy="66.06" r="0.56" fill="#111"/>
<circle cx="364.37" cy="68.78" r="0.56" fill="#111"/>
<circle cx="334.97" cy="59.82" r="0.56" fill="#111"/>
<circle cx="330.35" cy="63.07" r="0.56" fill="#111"/>
<circle cx="314.21" cy="49.35" r="0.56" fill="#111"/>
<circle cx="341.64" cy="63.65" r="0.56" fill="#111"/>
<circle cx="344.34" cy="68.27" r="0.56" fill="#111"/>
<circle cx="371.23" cy="69.08" r="0.56" fill="#111"/>
<circle cx="335.14" cy="60.98" r="0.56" fill="#111"/>
<circle cx="370.49" cy="71.20" r="0.56" fill="#111"/>
<circle cx="341.52" cy="60.20" r="0.56" fill="#111"/>
<circle cx="353.28" cy="66.52" r="0.56" fill="#111"/>
<circle cx="335.55" cy="60.21" r="0.56" fill="#111"/>
<circle cx="322.94" cy="61.51" r="0.56" fill="#111"/>
<circle cx="326.28" cy="55.23" r="0.56" fill="#111"/>
<circle cx="328.95" cy="65.27" r="0.56" fill="#111"/>
<circle cx="361.04" cy="70.16" r="0.56" fill="#111"/>
<circle cx="356.04" cy="67.98" r="0.56" fill="#111"/>
<circle cx="351.51" cy="66.12" r="0.56" fill="#111"/>
<circle cx="359.06" cy="70.79" r="0.56" fill="#111"/>
<circle cx="351.05" cy="67.31" r="0.56" fill="#111"/>
<circle cx="326.99" cy="50.39" r="0.56" fill="#111"/>
<circle cx="329.99" cy="57.74" r="0.56" fill="#111"/>
<circle cx="371.49" cy="67.57" r="0.56" fill="#111"/>
<circle cx="347.42" cy="65.44" r="0.56" fill="#111"/>
<circle cx="321.73" cy="50.26" r="0.56" fill="#111"/>
<circle cx="334.15" cy="64.06" r="0.56" fill="#111"/>
<circle cx="335.72" cy="64.56" r="0.56" fill="#111"/>
<circle cx="337.21" cy="64.42" r="0.56" fill="#111"/>
<circle cx="334.07" cy="52.07" r="0.56" fill="#111"/>
<circle cx="373.37" cy="67.74" r="0.56" fill="#111"/>
<circle cx="356.27" cy="65.31" r="0.56" fill="#111"/>
<circle cx="366.74" cy="68.69" r="0.56" fill="#111"/>
<circle cx="335.50" cy="64.81" r="0.56" fill="#111"/>
<circle cx="347.14" cy="67.02" r="0.56" fill="#111"/>
<circle cx="336.95" cy="59.00" r="0.56" fill="#111"/>
<circle cx="362.88" cy="69.66" r="0.56" fill="#111"/>
<circle cx="341.24" cy="67.48" r="0.56" fill="#111"/>
<circle cx="330.78" cy="65.66" r="0.56" fill="#111"/>
<circle cx="356.70" cy="69.59" r="0.56" fill="#111"/>
<circle cx="348.60" cy="65.86" r="0.56" fill="#111"/>
<circle cx="360.64" cy="73.10" r="0.56" fill="#111"/>
<circle cx="339.72" cy="66.73" r="0.56" fill="#111"/>
<circle cx="319.47" cy="54.00" r="0.56" fill="#111"/>
<circle cx="336.71" cy="63.76" r="0.56" fill="#111"/>
<circle cx="317.05" cy="47.73" r="0.56" fill="#111"/>
<circle cx="342.97" cy="67.49" r="0.56" fill="#111"/>
<circle cx="355.79" cy="64.86" r="0.56" fill="#111"/>
<circle cx="358.04" cy="67.76" r="0.56" fill="#111"/>
<circle cx="368.68" cy="69.04" r="0.56" fill="#111"/>
<circle cx="364.37" cy="68.08" r="0.56" fill="#111"/>
<circle cx="337.74" cy="58.83" r="0.56" fill="#111"/>
<circle cx="336.91" cy="63.19" r="0.56" fill="#111"/>
<circle cx="363.96" cy="68.35" r="0.56" fill="#111"/>
<circle cx="352.88" cy="67.60" r="0.56" fill="#111"/>
<circle cx="349.72" cy="66.65" r="0.56" fill="#111"/>
<circle cx="336.41" cy="58.29" r="0.56" fill="#111"/>
<circle cx="338.27" cy="51.35" r="0.56" fill="#111"/>
<circle cx="330.89" cy="65.20" r="0.56" fill="#111"/>
<circle cx="326.02" cy="64.73" r="0.56" fill="#111"/>
<circle cx="339.24" cy="66.75" r="0.56" fill="#111"/>
<circle cx="351.01" cy="64.17" r="0.56" fill="#111"/>
<circle cx="368.35" cy="67.50" r="0.56" fill="#111"/>
<circle cx="375.32" cy="68.19" r="0.56" fill="#111"/>
<circle cx="347.99" cy="63.65" r="0.56" fill="#111"/>
<circle cx="360.03" cy="64.60" r="0.56" fill="#111"/>
<circle cx="326.36" cy="62.52" r="0.56" fill="#111"/>
<circle cx="350.19" cy="65.48" r="0.56" fill="#111"/>
<circle cx="337.61" cy="59.02" r="0.56" fill="#111"/>
<circle cx="312.30" cy="40.41" r="0.56" fill="#111"/>
<circle cx="314.55" cy="46.42" r="0.56" fill="#111"/>
<circle cx="313.87" cy="48.25" r="0.56" fill="#111"/>
<circle cx="320.63" cy="42.71" r="0.56" fill="#111"/>
<circle cx="311.37" cy="51.98" r="0.56" fill="#111"/>
<circle cx="316.76" cy="44.93" r="0.56" fill="#111"/>
<circle cx="316.74" cy="55.56" r="0.56" fill="#111"/>
<circle cx="310.04" cy="49.62" r="0.56" fill="#111"/>
<circle cx="304.53" cy="46.72" r="0.56" fill="#111"/>
<circle cx="311.82" cy="42.90" r="0.56" fill="#111"/>
<circle cx="318.80" cy="50.94" r="0.56" fill="#111"/>
<circle cx="320.75" cy="54.86" r="0.56" fill="#111"/>
<circle cx="317.95" cy="48.39" r="0.56" fill="#111"/>
<circle cx="321.87" cy="41.20" r="0.56" fill="#111"/>
<circle cx="319.40" cy="52.23" r="0.56" fill="#111"/>
<circle cx="307.01" cy="47.10" r="0.56" fill="#111"/>
<circle cx="340.47" cy="85.26" r="0.56" fill="#111"/>
<circle cx="332.14" cy="71.58" r="0.56" fill="#111"/>
<circle cx="334.89" cy="70.36" r="0.56" fill="#111"/>
<circle cx="344.12" cy="72.84" r="0.56" fill="#111"/>
<circle cx="354.56" cy="76.21" r="0.56" fill="#111"/>
<circle cx="355.28" cy="72.23" r="0.56" fill="#111"/>
<circle cx="358.66" cy="73.09" r="0.56" fill="#111"/>
<circle cx="362.40" cy="78.31" r="0.56" fill="#111"/>
<circle cx="355.10" cy="75.13" r="0.56" fill="#111"/>
<circle cx="328.12" cy="73.82" r="0.56" fill="#111"/>
<circle cx="324.13" cy="76.27" r="0.56" fill="#111"/>
<circle cx="357.30" cy="81.05" r="0.56" fill="#111"/>
<circle cx="328.94" cy="70.44" r="0.56" fill="#111"/>
<circle cx="358.28" cy="76.95" r="0.56" fill="#111"/>
<circle cx="346.57" cy="73.10" r="0.56" fill="#111"/>
<circle cx="372.40" cy="73.77" r="0.56" fill="#111"/>
<circle cx="332.52" cy="80.37" r="0.56" fill="#111"/>
<circle cx="351.49" cy="80.82" r="0.56" fill="#111"/>
<circle cx="332.18" cy="72.21" r="0.56" fill="#111"/>
<circle cx="321.96" cy="73.48" r="0.56" fill="#111"/>
<circle cx="336.72" cy="73.52" r="0.56" fill="#111"/>
<circle cx="334.86" cy="79.56" r="0.56" fill="#111"/>
<circle cx="346.00" cy="72.34" r="0.56" fill="#111"/>
<circle cx="329.43" cy="72.29" r="0.56" fill="#111"/>
<circle cx="349.89" cy="74.66" r="0.56" fill="#111"/>
<circle cx="328.88" cy="67.50" r="0.56" fill="#111"/>
<circle cx="365.67" cy="75.74" r="0.56" fill="#111"/>
<circle cx="332.14" cy="72.92" r="0.56" fill="#111"/>
<circle cx="374.35" cy="74.81" r="0.56" fill="#111"/>
<circle cx="337.38" cy="81.72" r="0.56" fill="#111"/>
<circle cx="335.82" cy="72.56" r="0.56" fill="#111"/>
<circle cx="347.15" cy="73.08" r="0.56" fill="#111"/>
<circle cx="339.47" cy="73.04" r="0.56" fill="#111"/>
<circle cx="340.56" cy="77.15" r="0.56" fill="#111"/>
<circle cx="342.32" cy="76.88" r="0.56" fill="#111"/>
<circle cx="350.35" cy="73.49" r="0.56" fill="#111"/>
<circle cx="333.48" cy="74.28" r="0.56" fill="#111"/>
<circle cx="359.87" cy="74.28" r="0.56" fill="#111"/>
<circle cx="335.09" cy="76.30" r="0.56" fill="#111"/>
<circle cx="340.50" cy="79.22" r="0.56" fill="#111"/>
<circle cx="364.92" cy="78.03" r="0.56" fill="#111"/>
<circle cx="345.93" cy="78.42" r="0.56" fill="#111"/>
<circle cx="340.28" cy="77.36" r="0.56" fill="#111"/>
<circle cx="334.94" cy="71.83" r="0.56" fill="#111"/>
<circle cx="340.02" cy="76.05" r="0.56" fill="#111"/>
<circle cx="349.94" cy="72.84" r="0.56" fill="#111"/>
<circle cx="348.91" cy="71.41" r="0.56" fill="#111"/>
<circle cx="329.61" cy="76.49" r="0.56" fill="#111"/>
<circle cx="361.57" cy="72.49" r="0.56" fill="#111"/>
<circle cx="336.78" cy="77.62" r="0.56" fill="#111"/>
<circle cx="356.48" cy="76.43" r="0.56" fill="#111"/>
<circle cx="343.77" cy="78.56" r="0.56" fill="#111"/>
<circle cx="328.07" cy="69.54" r="0.56" fill="#111"/>
<circle cx="337.48" cy="71.14" r="0.56" fill="#111"/>
<circle cx="337.83" cy="71.14" r="0.56" fill="#111"/>
<polyline points="294.2,40.10 294.7,40.64 295.2,41.18 295.7,41.72 296.2,42.26 296.7,42.80 297.2,43.34 297.7,43.88 298.2,44.37 298.7,44.78 299.2,45.20 299.7,45.61 300.2,46.03 300.7,46.44 301.2,46.86 301.7,47.27 302.2,47.69 302.7,48.10 303.2,48.51 303.7,48.91 304.2,49.32 304.7,49.72 305.2,50.13 305.7,50.53 306.2,50.94 306.7,51.35 307.2,51.75 307.7,52.16 308.2,52.55 308.7,52.91 309.2,53.28 309.7,53.64 310.2,54.01 310.7,54.37 311.2,54.74 311.7,55.10 312.2,55.46 312.7,55.83 313.2,56.19 313.7,56.56 314.2,56.92 314.7,57.29 315.2,57.65 315.7,57.96 316.2,58.24 316.7,58.51 317.2,58.78 317.7,59.05 318.2,59.33 318.7,59.60 319.2,59.87 319.7,60.15 320.2,60.42 320.7,60.69 321.2,60.96 321.7,61.24 322.2,61.49 322.7,61.70 323.2,61.91 323.7,62.12 324.2,62.34 324.7,62.55 325.2,62.76 325.7,62.98 326.2,63.19 326.7,63.40 327.2,63.62 327.7,63.83 328.2,64.03 328.7,64.18 329.2,64.33 329.7,64.48 330.2,64.63 330.7,64.78 331.2,64.93 331.7,65.09 332.2,65.24 332.7,65.39 333.2,65.54 333.7,65.69 334.2,65.84 334.7,65.98 335.2,66.12 335.7,66.26 336.2,66.40 336.7,66.54 337.2,66.68 337.7,66.81 338.2,66.95 338.7,67.09 339.2,67.23 339.7,67.37 340.2,67.01 340.7,67.15 341.2,67.28 341.7,67.42 342.2,67.56 342.7,67.70 343.2,67.76 343.7,67.83 344.2,67.89 344.7,67.95 345.2,68.01 345.7,68.08 346.2,68.14 346.7,68.20 347.2,68.27 347.7,68.33 348.2,68.39 348.7,68.46 349.2,68.52 349.7,68.58 350.2,68.64 350.7,68.71 351.2,68.77 351.7,68.83 352.2,68.90 352.7,68.96 353.2,69.02 353.7,69.09 354.2,69.15 354.7,69.21 355.2,69.27 355.7,69.32 356.2,69.36 356.7,69.39 357.2,69.43 357.7,69.46 358.2,69.50 358.7,69.54 359.2,69.57 359.7,69.61 360.2,69.64 360.7,69.68 361.2,69.71 361.7,69.75 362.2,69.79 362.7,69.82 363.2,69.86 363.7,69.89 364.2,69.93 364.7,69.96 365.2,70.00 365.7,70.04 366.2,70.07 366.7,70.11 367.2,70.14 367.7,70.18 368.2,70.21 368.7,70.23 369.2,70.25 369.7,70.27 370.2,70.29 370.7,70.31 371.2,70.33 371.7,70.34 372.2,70.36 372.7,70.38 373.2,70.40 373.7,70.42 374.2,70.44 374.7,70.46 375.2,70.48 375.7,70.50 376.2,70.52 376.7,70.54 377.2,70.56 377.7,70.58 378.2,70.60 378.7,70.62 379.2,70.64 379.7,70.66 380.2,70.68 380.7,70.70 381.2,70.70" fill="none" stroke="#7fb0b0" stroke-width="0.7"/>
<polyline points="294.2,39.30 294.7,39.84 295.2,40.38 295.7,40.92 296.2,41.46 296.7,42.00 297.2,42.54 297.7,43.08 298.2,43.57 298.7,43.98 299.2,44.40 299.7,44.81 300.2,45.23 300.7,45.64 301.2,46.06 301.7,46.47 302.2,46.89 302.7,47.30 303.2,47.71 303.7,48.11 304.2,48.52 304.7,48.92 305.2,49.33 305.7,49.73 306.2,50.14 306.7,50.55 307.2,50.95 307.7,51.36 308.2,51.75 308.7,52.11 309.2,52.48 309.7,52.84 310.2,53.21 310.7,53.57 311.2,53.94 311.7,54.30 312.2,54.66 312.7,55.03 313.2,55.39 313.7,55.76 314.2,56.12 314.7,56.49 315.2,56.85 315.7,57.16 316.2,57.44 316.7,57.71 317.2,57.98 317.7,58.25 318.2,58.53 318.7,58.80 319.2,59.07 319.7,59.35 320.2,59.62 320.7,59.89 321.2,60.16 321.7,60.44 322.2,60.69 322.7,60.90 323.2,61.11 323.7,61.32 324.2,61.54 324.7,61.75 325.2,61.96 325.7,62.18 326.2,62.39 326.7,62.60 327.2,62.82 327.7,63.03 328.2,63.23 328.7,63.38 329.2,63.53 329.7,63.68 330.2,63.83 330.7,63.98 331.2,64.13 331.7,64.29 332.2,64.44 332.7,64.59 333.2,64.74 333.7,64.89 334.2,65.04 334.7,65.18 335.2,65.32 335.7,65.46 336.2,65.60 336.7,65.74 337.2,65.88 337.7,66.01 338.2,66.15 338.7,66.29 339.2,66.43 339.7,66.57 340.2,66.71 340.7,66.85 341.2,66.98 341.7,67.12 342.2,67.26 342.7,67.40 343.2,67.46 343.7,67.53 344.2,67.59 344.7,67.65 345.2,67.71 345.7,67.78 346.2,67.84 346.7,67.90 347.2,67.97 347.7,68.03 348.2,68.09 348.7,68.16 349.2,68.22 349.7,68.28 350.2,68.34 350.7,68.41 351.2,68.47 351.7,68.53 352.2,68.60 352.7,68.66 353.2,68.72 353.7,68.79 354.2,68.85 354.7,68.91 355.2,68.97 355.7,69.02 356.2,69.06 356.7,69.09 357.2,69.13 357.7,69.16 358.2,69.20 358.7,69.24 359.2,69.27 359.7,69.31 360.2,69.34 360.7,69.38 361.2,69.41 361.7,69.45 362.2,69.49 362.7,69.52 363.2,69.56 363.7,69.59 364.2,69.63 364.7,69.66 365.2,69.70 365.7,69.74 366.2,69.77 366.7,69.81 367.2,69.84 367.7,69.88 368.2,69.91 368.7,69.93 369.2,69.95 369.7,69.97 370.2,69.99 370.7,70.01 371.2,70.03 371.7,70.04 372.2,70.06 372.7,70.08 373.2,70.10 373.7,70.12 374.2,70.14 374.7,70.16 375.2,70.18 375.7,70.20 376.2,70.22 376.7,70.24 377.2,70.26 377.7,70.28 378.2,70.30 378.7,70.32 379.2,70.34 379.7,70.36 380.2,70.38 380.7,70.40 381.2,70.40" fill="none" stroke="#e85a5a" stroke-width="0.7"/>
<rect x="294.2" y="33.9" width="87" height="64.1" fill="none" stroke="#7a7a7a" stroke-width="0.7"/>
<line x1="294.2" y1="33.9" x2="295.4" y2="33.9" stroke="#333" stroke-width="0.4"/>
<text x="292.9" y="35.15" font-size="3.6" font-weight="bold" font-style="normal" fill="#000" text-anchor="end" stroke="#000" stroke-width="0.1" >500</text>
<line x1="294.2" y1="43.43" x2="295.4" y2="43.43" stroke="#333" stroke-width="0.4"/>
<text x="292.9" y="44.68" font-size="3.6" font-weight="bold" font-style="normal" fill="#000" text-anchor="end" stroke="#000" stroke-width="0.1" >100</text>
<line x1="294.2" y1="57.08" x2="295.4" y2="57.08" stroke="#333" stroke-width="0.4"/>
<line x1="294.2" y1="70.72" x2="295.4" y2="70.72" stroke="#333" stroke-width="0.4"/>
<text x="292.9" y="71.97" font-size="3.6" font-weight="bold" font-style="normal" fill="#000" text-anchor="end" stroke="#000" stroke-width="0.1" >1.0</text>
<line x1="294.2" y1="84.36" x2="295.4" y2="84.36" stroke="#333" stroke-width="0.4"/>
<text x="292.9" y="85.61" font-size="3.6" font-weight="bold" font-style="normal" fill="#000" text-anchor="end" stroke="#000" stroke-width="0.1" >0.1</text>
<line x1="294.2" y1="98" x2="295.4" y2="98" stroke="#333" stroke-width="0.4"/>
<text x="292.9" y="99.25" font-size="3.6" font-weight="bold" font-style="normal" fill="#000" text-anchor="end" stroke="#000" stroke-width="0.1" >0.01</text>
<line x1="294.2" y1="98.0" x2="294.2" y2="96.8" stroke="#333" stroke-width="0.4"/>
<text x="294.2" y="102.1" font-size="3.6" font-weight="bold" font-style="normal" fill="#000" text-anchor="middle" stroke="#000" stroke-width="0.1" >0.1</text>
<line x1="315.95" y1="98.0" x2="315.95" y2="96.8" stroke="#333" stroke-width="0.4"/>
<text x="315.95" y="102.1" font-size="3.6" font-weight="bold" font-style="normal" fill="#000" text-anchor="middle" stroke="#000" stroke-width="0.1" >1</text>
<line x1="337.7" y1="98.0" x2="337.7" y2="96.8" stroke="#333" stroke-width="0.4"/>
<text x="337.7" y="102.1" font-size="3.6" font-weight="bold" font-style="normal" fill="#000" text-anchor="middle" stroke="#000" stroke-width="0.1" >10</text>
<line x1="359.45" y1="98.0" x2="359.45" y2="96.8" stroke="#333" stroke-width="0.4"/>
<text x="359.45" y="102.1" font-size="3.6" font-weight="bold" font-style="normal" fill="#000" text-anchor="middle" stroke="#000" stroke-width="0.1" >100</text>
<line x1="381.2" y1="98.0" x2="381.2" y2="96.8" stroke="#333" stroke-width="0.4"/>
<text x="381.2" y="102.1" font-size="3.6" font-weight="bold" font-style="normal" fill="#000" text-anchor="middle" stroke="#000" stroke-width="0.1" >1000</text>
<text x="337" y="106.3" font-size="3.8" font-weight="bold" font-style="italic" fill="#000" text-anchor="middle" >X</text>
<text transform="translate(285.6,66.5)" font-size="3.8" font-style="italic" font-weight="bold" text-anchor="middle">φ²</text>
<circle cx="340" cy="37.6" r="0.6" fill="#222"/>
<text x="345.9" y="38.9" font-size="3.5" font-weight="normal" font-style="italic" fill="#000" text-anchor="start" stroke="#000" stroke-width="0.05" >All data</text>
<line x1="336.3" y1="42.2" x2="344.6" y2="42.2" stroke="#e85a5a" stroke-width="0.7"/>
<text x="345.9" y="43.4" font-size="3.5" font-weight="normal" font-style="italic" fill="#000" text-anchor="start" textLength="33" lengthAdjust="spacingAndGlyphs" stroke="#000" stroke-width="0.05" >Ansari (2007) C=0.367</text>
<line x1="336.3" y1="46.6" x2="344.6" y2="46.6" stroke="#7fb0b0" stroke-width="0.7"/>
<text x="345.9" y="47.8" font-size="3.5" font-weight="normal" font-style="italic" fill="#000" text-anchor="start" textLength="33" lengthAdjust="spacingAndGlyphs" stroke="#000" stroke-width="0.05" >Present work C=0.339</text>
<text x="335" y="113.3" font-size="5.95" font-weight="bold" font-style="normal" fill="#000" text-anchor="middle" textLength="74.2" lengthAdjust="spacingAndGlyphs" stroke="#000" stroke-width="0.16" >Slug pressure drop prediction</text>
<line x1="294.3" y1="188.9" x2="381.0" y2="124.7" stroke="#3b8fe0" stroke-width="0.6"/>
<line x1="294.3" y1="188.9" x2="366.55" y2="124.7" stroke="#ef5a5a" stroke-width="0.6" stroke-dasharray="1.3,0.8"/>
<line x1="294.3" y1="188.9" x2="381.0" y2="137.54" stroke="#ef5a5a" stroke-width="0.6" stroke-dasharray="1.3,0.8"/>
<circle cx="340.9" cy="155.1" r="0.65" fill="#1a1a1a"/>
<circle cx="343.4" cy="153.8" r="0.65" fill="#1a1a1a"/>
<circle cx="344.1" cy="155.7" r="0.65" fill="#1a1a1a"/>
<circle cx="338.3" cy="157.6" r="0.65" fill="#1a1a1a"/>
<circle cx="340.3" cy="158.9" r="0.65" fill="#1a1a1a"/>
<circle cx="326.3" cy="164.6" r="0.65" fill="#1a1a1a"/>
<circle cx="326.9" cy="165.9" r="0.65" fill="#1a1a1a"/>
<circle cx="325" cy="167.8" r="0.65" fill="#1a1a1a"/>
<circle cx="328.2" cy="169" r="0.65" fill="#1a1a1a"/>
<circle cx="321" cy="169" r="0.65" fill="#1a1a1a"/>
<circle cx="311" cy="175.4" r="0.65" fill="#1a1a1a"/>
<circle cx="319.3" cy="175.4" r="0.65" fill="#1a1a1a"/>
<circle cx="318" cy="177.3" r="0.65" fill="#1a1a1a"/>
<circle cx="308.5" cy="179.8" r="0.65" fill="#1a1a1a"/>
<circle cx="307.2" cy="180.5" r="0.65" fill="#1a1a1a"/>
<circle cx="298.7" cy="183.2" r="0.65" fill="#1a1a1a"/>
<circle cx="300.6" cy="184.7" r="0.65" fill="#1a1a1a"/>
<circle cx="303" cy="183.2" r="0.65" fill="#1a1a1a"/>
<circle cx="306.3" cy="182.3" r="0.65" fill="#1a1a1a"/>
<circle cx="309.6" cy="179.9" r="0.65" fill="#1a1a1a"/>
<circle cx="368.7" cy="131.2" r="0.65" fill="#1a1a1a"/>
<circle cx="352.2" cy="141" r="0.65" fill="#1a1a1a"/>
<circle cx="352.9" cy="143.9" r="0.65" fill="#1a1a1a"/>
<circle cx="354.1" cy="144.8" r="0.65" fill="#1a1a1a"/>
<circle cx="346.3" cy="146" r="0.65" fill="#1a1a1a"/>
<circle cx="297.2" cy="186" r="0.65" fill="#1a1a1a"/>
<circle cx="302" cy="184" r="0.65" fill="#1a1a1a"/>
<rect x="294.3" y="124.7" width="86.7" height="64.2" fill="none" stroke="#7a7a7a" stroke-width="0.7"/>
<line x1="294.3" y1="188.9" x2="295.5" y2="188.9" stroke="#333" stroke-width="0.4"/>
<text x="293" y="190.15" font-size="3.6" font-weight="bold" font-style="normal" fill="#000" text-anchor="end" stroke="#000" stroke-width="0.1" >0</text>
<line x1="294.3" y1="188.9" x2="294.3" y2="187.7" stroke="#333" stroke-width="0.4"/>
<text x="294.3" y="192.9" font-size="3.6" font-weight="bold" font-style="normal" fill="#000" text-anchor="middle" stroke="#000" stroke-width="0.1" >0</text>
<line x1="294.3" y1="179.73" x2="295.5" y2="179.73" stroke="#333" stroke-width="0.4"/>
<text x="293" y="180.98" font-size="3.6" font-weight="bold" font-style="normal" fill="#000" text-anchor="end" stroke="#000" stroke-width="0.1" >100</text>
<line x1="306.69" y1="188.9" x2="306.69" y2="187.7" stroke="#333" stroke-width="0.4"/>
<text x="306.69" y="192.9" font-size="3.6" font-weight="bold" font-style="normal" fill="#000" text-anchor="middle" stroke="#000" stroke-width="0.1" >100</text>
<line x1="294.3" y1="170.56" x2="295.5" y2="170.56" stroke="#333" stroke-width="0.4"/>
<text x="293" y="171.81" font-size="3.6" font-weight="bold" font-style="normal" fill="#000" text-anchor="end" stroke="#000" stroke-width="0.1" >200</text>
<line x1="319.07" y1="188.9" x2="319.07" y2="187.7" stroke="#333" stroke-width="0.4"/>
<text x="319.07" y="192.9" font-size="3.6" font-weight="bold" font-style="normal" fill="#000" text-anchor="middle" stroke="#000" stroke-width="0.1" >200</text>
<line x1="294.3" y1="161.39" x2="295.5" y2="161.39" stroke="#333" stroke-width="0.4"/>
<text x="293" y="162.64" font-size="3.6" font-weight="bold" font-style="normal" fill="#000" text-anchor="end" stroke="#000" stroke-width="0.1" >300</text>
<line x1="331.46" y1="188.9" x2="331.46" y2="187.7" stroke="#333" stroke-width="0.4"/>
<text x="331.46" y="192.9" font-size="3.6" font-weight="bold" font-style="normal" fill="#000" text-anchor="middle" stroke="#000" stroke-width="0.1" >300</text>
<line x1="294.3" y1="152.21" x2="295.5" y2="152.21" stroke="#333" stroke-width="0.4"/>
<text x="293" y="153.46" font-size="3.6" font-weight="bold" font-style="normal" fill="#000" text-anchor="end" stroke="#000" stroke-width="0.1" >400</text>
<line x1="343.84" y1="188.9" x2="343.84" y2="187.7" stroke="#333" stroke-width="0.4"/>
<text x="343.84" y="192.9" font-size="3.6" font-weight="bold" font-style="normal" fill="#000" text-anchor="middle" stroke="#000" stroke-width="0.1" >400</text>
<line x1="294.3" y1="143.04" x2="295.5" y2="143.04" stroke="#333" stroke-width="0.4"/>
<text x="293" y="144.29" font-size="3.6" font-weight="bold" font-style="normal" fill="#000" text-anchor="end" stroke="#000" stroke-width="0.1" >500</text>
<line x1="356.23" y1="188.9" x2="356.23" y2="187.7" stroke="#333" stroke-width="0.4"/>
<text x="356.23" y="192.9" font-size="3.6" font-weight="bold" font-style="normal" fill="#000" text-anchor="middle" stroke="#000" stroke-width="0.1" >500</text>
<line x1="294.3" y1="133.87" x2="295.5" y2="133.87" stroke="#333" stroke-width="0.4"/>
<text x="293" y="135.12" font-size="3.6" font-weight="bold" font-style="normal" fill="#000" text-anchor="end" stroke="#000" stroke-width="0.1" >600</text>
<line x1="368.61" y1="188.9" x2="368.61" y2="187.7" stroke="#333" stroke-width="0.4"/>
<text x="368.61" y="192.9" font-size="3.6" font-weight="bold" font-style="normal" fill="#000" text-anchor="middle" stroke="#000" stroke-width="0.1" >600</text>
<line x1="294.3" y1="124.7" x2="295.5" y2="124.7" stroke="#333" stroke-width="0.4"/>
<text x="293" y="125.95" font-size="3.6" font-weight="bold" font-style="normal" fill="#000" text-anchor="end" stroke="#000" stroke-width="0.1" >700</text>
<line x1="381" y1="188.9" x2="381" y2="187.7" stroke="#333" stroke-width="0.4"/>
<text x="381" y="192.9" font-size="3.6" font-weight="bold" font-style="normal" fill="#000" text-anchor="middle" stroke="#000" stroke-width="0.1" >700</text>
<text x="337.5" y="196.9" font-size="3.5" font-weight="bold" font-style="italic" fill="#000" text-anchor="middle" stroke="#000" stroke-width="0.05" >(dP/dL)<tspan font-size="2.5" dy="0.6">Mea.</tspan><tspan dy="-0.6"> (Pa/m)</tspan></text>
<text transform="translate(289.6,156.5) rotate(-90)" font-size="3.6" font-style="italic" font-weight="bold" stroke="#000" stroke-width="0.05" text-anchor="middle">(dP/dL)<tspan font-size="2.5">Pre.</tspan> (Pa/m)</text>
<circle cx="298.5" cy="128.3" r="0.6" fill="#222"/>
<text x="303.1" y="129.6" font-size="3.5" font-weight="bold" font-style="normal" fill="#000" text-anchor="start" textLength="57.4" lengthAdjust="spacingAndGlyphs" stroke="#000" stroke-width="0.06" >Industrial near-horizontal pipe data</text>
<text x="303.1" y="133.8" font-size="3.5" font-weight="bold" font-style="normal" fill="#000" text-anchor="start" stroke="#000" stroke-width="0.06" >(Brill et al. 1981)</text>
<text x="335.5" y="142.8" font-size="3.4" font-weight="normal" font-style="normal" fill="#f03030" text-anchor="middle" >+20%</text>
<text x="364.2" y="156.6" font-size="3.4" font-weight="normal" font-style="normal" fill="#f03030" text-anchor="middle" >-20%</text>
<text x="375.2" y="136.6" font-size="3.4" font-weight="normal" font-style="normal" fill="#3b8fe0" text-anchor="middle" >0%</text>
<text x="335.1" y="203" font-size="5.95" font-weight="bold" font-style="normal" fill="#000" text-anchor="middle" textLength="63.4" lengthAdjust="spacingAndGlyphs" stroke="#000" stroke-width="0.16" >Industrial data validation</text>
<rect x="66.3" y="211.9" width="94.9" height="17.7" rx="2.2" fill="#fff" stroke="#eeb2b3" stroke-width="0.7"/>
<rect x="175.3" y="212.2" width="94.4" height="17.1" rx="2.2" fill="#fff" stroke="#d5e9c8" stroke-width="0.7"/>
<rect x="287.2" y="211.8" width="94.4" height="17.5" rx="2.2" fill="#fff" stroke="#f5e0a8" stroke-width="0.7"/>
<text x="70.8" y="222.1" font-size="6.7" font-weight="bold" font-style="normal" fill="#000" text-anchor="start" textLength="85.9" lengthAdjust="spacingAndGlyphs" >Data Acquisition and Analysis</text>
<text x="190.1" y="221.7" font-size="6.7" font-weight="bold" font-style="normal" fill="#000" text-anchor="start" textLength="65.5" lengthAdjust="spacingAndGlyphs" >Database Construction</text>
<text x="290.2" y="221" font-size="6.7" font-weight="bold" font-style="normal" fill="#000" text-anchor="start" textLength="88.7" lengthAdjust="spacingAndGlyphs" >Data Prediction and Validation</text>
<polygon points="163.1,219.85 168.9,219.85 168.9,218.3 172.7,221.4 168.9,224.5 168.9,222.95 163.1,222.95" fill="#0d1f6e"/>
<polygon points="275.9,218 282.4,218 282.4,216.7 285.9,219.75 282.4,222.8 282.4,221.5 275.9,221.5" fill="#0d1f6e"/>
<rect x="63" y="234.7" width="306.6" height="17.3" fill="#012a6f"/>
<text x="64.3" y="245.5" font-size="8.8" font-weight="bold" font-style="normal" fill="#fff" text-anchor="start" textLength="249" lengthAdjust="spacingAndGlyphs" >Cao Yeqi, Xu Qiang, Yu Haiyang, Li Yuwen, Huang Bo, Guo Liejin, 2025</text>
<g fill="none" stroke="#1a22ee" stroke-linecap="round"><path d="M376.3,237.7 C378.6,235.8 382.2,234.7 383.2,236.2 C384.4,238.2 381.4,242.6 377.0,244.3 C374.3,245.3 372.3,244.7 372.4,243.1" stroke-width="1.5"/><path d="M375.6,238.7 C376.6,236.9 379.6,237.0 379.3,238.9 C379.1,240.0 377.8,240.2 377.4,240.2 C378.6,240.4 379.6,241.2 378.8,242.2 C378.0,243.1 376.2,242.9 375.5,241.9" stroke-width="1.0"/><circle cx="376.3" cy="240.3" r="0.55" fill="#1a22ee" stroke="none"/></g>
<text x="377.6" y="250.7" font-size="4" font-weight="bold" font-style="normal" fill="#1a22ee" text-anchor="middle" textLength="11" lengthAdjust="spacingAndGlyphs" font-family="Liberation Sans">MFPL</text>
</svg>
</body></html>
